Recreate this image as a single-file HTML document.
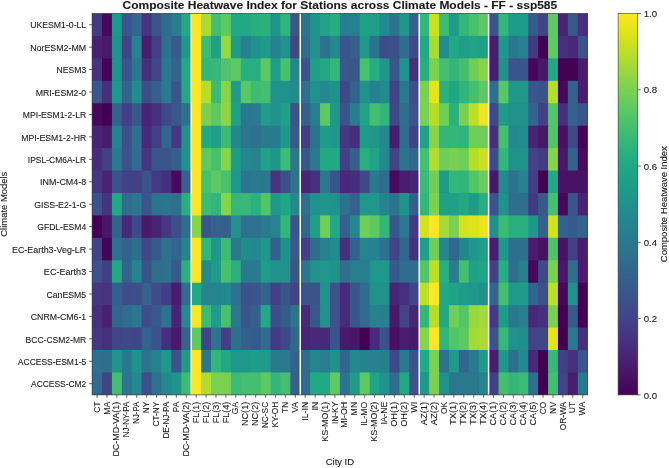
<!DOCTYPE html><html><head><meta charset="utf-8"><style>html,body{margin:0;padding:0;background:#fff;width:669px;height:468px;overflow:hidden}svg{display:block;filter:blur(0.35px)}text{font-family:"Liberation Sans",sans-serif;fill:#1a1a1a;stroke:#1a1a1a;stroke-width:0.1px}</style></head><body>
<svg width="669" height="468" viewBox="0 0 669 468">
<defs><linearGradient id="cb" x1="0" y1="1" x2="0" y2="0">
<stop offset="0.00" stop-color="#440154"/>
<stop offset="0.05" stop-color="#471365"/>
<stop offset="0.10" stop-color="#482475"/>
<stop offset="0.15" stop-color="#463480"/>
<stop offset="0.20" stop-color="#414487"/>
<stop offset="0.25" stop-color="#3b528b"/>
<stop offset="0.30" stop-color="#355f8d"/>
<stop offset="0.35" stop-color="#2f6c8e"/>
<stop offset="0.40" stop-color="#2a788e"/>
<stop offset="0.45" stop-color="#25848e"/>
<stop offset="0.50" stop-color="#21918c"/>
<stop offset="0.55" stop-color="#1e9c89"/>
<stop offset="0.60" stop-color="#22a884"/>
<stop offset="0.65" stop-color="#2fb47c"/>
<stop offset="0.70" stop-color="#44bf70"/>
<stop offset="0.75" stop-color="#5ec962"/>
<stop offset="0.80" stop-color="#7ad151"/>
<stop offset="0.85" stop-color="#9bd93c"/>
<stop offset="0.90" stop-color="#bddf26"/>
<stop offset="0.95" stop-color="#dfe318"/>
<stop offset="1.00" stop-color="#fde725"/>
</linearGradient></defs>
<rect width="669" height="468" fill="#fff"/>
<text x="339.90" y="8.6" font-size="10.12" font-weight="bold" text-anchor="middle" textLength="434.6" lengthAdjust="spacingAndGlyphs">Composite Heatwave Index for Stations across Climate Models - FF - ssp585</text>
<g>
<rect x="92.10" y="13.50" width="10.71" height="23.24" fill="#443a83"/>
<rect x="102.01" y="13.50" width="10.71" height="23.24" fill="#46085c"/>
<rect x="111.92" y="13.50" width="10.71" height="23.24" fill="#1f978b"/>
<rect x="121.84" y="13.50" width="10.71" height="23.24" fill="#3a548c"/>
<rect x="131.75" y="13.50" width="10.71" height="23.24" fill="#31678e"/>
<rect x="141.66" y="13.50" width="10.71" height="23.24" fill="#463480"/>
<rect x="151.57" y="13.50" width="10.71" height="23.24" fill="#3a548c"/>
<rect x="161.48" y="13.50" width="10.71" height="23.24" fill="#2f6c8e"/>
<rect x="171.40" y="13.50" width="10.71" height="23.24" fill="#287d8e"/>
<rect x="181.31" y="13.50" width="10.71" height="23.24" fill="#22a884"/>
<rect x="191.22" y="13.50" width="10.71" height="23.24" fill="#fde725"/>
<rect x="201.13" y="13.50" width="10.71" height="23.24" fill="#a8db34"/>
<rect x="211.04" y="13.50" width="10.71" height="23.24" fill="#44bf70"/>
<rect x="220.96" y="13.50" width="10.71" height="23.24" fill="#5ec962"/>
<rect x="230.87" y="13.50" width="10.71" height="23.24" fill="#22a884"/>
<rect x="240.78" y="13.50" width="10.71" height="23.24" fill="#22a884"/>
<rect x="250.69" y="13.50" width="10.71" height="23.24" fill="#29af7f"/>
<rect x="260.60" y="13.50" width="10.71" height="23.24" fill="#2cb17e"/>
<rect x="270.52" y="13.50" width="10.71" height="23.24" fill="#1f958b"/>
<rect x="280.43" y="13.50" width="10.71" height="23.24" fill="#2fb47c"/>
<rect x="290.34" y="13.50" width="10.71" height="23.24" fill="#3a548c"/>
<rect x="300.25" y="13.50" width="10.71" height="23.24" fill="#2c738e"/>
<rect x="310.16" y="13.50" width="10.71" height="23.24" fill="#20928c"/>
<rect x="320.08" y="13.50" width="10.71" height="23.24" fill="#20a386"/>
<rect x="329.99" y="13.50" width="10.71" height="23.24" fill="#26ad81"/>
<rect x="339.90" y="13.50" width="10.71" height="23.24" fill="#287d8e"/>
<rect x="349.81" y="13.50" width="10.71" height="23.24" fill="#27808e"/>
<rect x="359.72" y="13.50" width="10.71" height="23.24" fill="#1fa188"/>
<rect x="369.64" y="13.50" width="10.71" height="23.24" fill="#1f9f88"/>
<rect x="379.55" y="13.50" width="10.71" height="23.24" fill="#23898e"/>
<rect x="389.46" y="13.50" width="10.71" height="23.24" fill="#2c738e"/>
<rect x="399.37" y="13.50" width="10.71" height="23.24" fill="#1f958b"/>
<rect x="409.28" y="13.50" width="10.71" height="23.24" fill="#355f8d"/>
<rect x="419.20" y="13.50" width="10.71" height="23.24" fill="#32b67a"/>
<rect x="429.11" y="13.50" width="10.71" height="23.24" fill="#cae11f"/>
<rect x="439.02" y="13.50" width="10.71" height="23.24" fill="#3bbb75"/>
<rect x="448.93" y="13.50" width="10.71" height="23.24" fill="#1e9c89"/>
<rect x="458.84" y="13.50" width="10.71" height="23.24" fill="#32b67a"/>
<rect x="468.76" y="13.50" width="10.71" height="23.24" fill="#48c16e"/>
<rect x="478.67" y="13.50" width="10.71" height="23.24" fill="#5ec962"/>
<rect x="488.58" y="13.50" width="10.71" height="23.24" fill="#3a548c"/>
<rect x="498.49" y="13.50" width="10.71" height="23.24" fill="#32b67a"/>
<rect x="508.40" y="13.50" width="10.71" height="23.24" fill="#1e9c89"/>
<rect x="518.32" y="13.50" width="10.71" height="23.24" fill="#1e9c89"/>
<rect x="528.23" y="13.50" width="10.71" height="23.24" fill="#375a8c"/>
<rect x="538.14" y="13.50" width="10.71" height="23.24" fill="#414487"/>
<rect x="548.05" y="13.50" width="10.71" height="23.24" fill="#5ec962"/>
<rect x="557.96" y="13.50" width="10.71" height="23.24" fill="#482475"/>
<rect x="567.88" y="13.50" width="10.71" height="23.24" fill="#38588c"/>
<rect x="577.79" y="13.50" width="9.91" height="23.24" fill="#46307e"/>
<rect x="92.10" y="35.94" width="10.71" height="23.24" fill="#482173"/>
<rect x="102.01" y="35.94" width="10.71" height="23.24" fill="#481a6c"/>
<rect x="111.92" y="35.94" width="10.71" height="23.24" fill="#21918c"/>
<rect x="121.84" y="35.94" width="10.71" height="23.24" fill="#414487"/>
<rect x="131.75" y="35.94" width="10.71" height="23.24" fill="#26828e"/>
<rect x="141.66" y="35.94" width="10.71" height="23.24" fill="#481d6f"/>
<rect x="151.57" y="35.94" width="10.71" height="23.24" fill="#433e85"/>
<rect x="161.48" y="35.94" width="10.71" height="23.24" fill="#2d718e"/>
<rect x="171.40" y="35.94" width="10.71" height="23.24" fill="#375a8c"/>
<rect x="181.31" y="35.94" width="10.71" height="23.24" fill="#1f978b"/>
<rect x="191.22" y="35.94" width="10.71" height="23.24" fill="#fde725"/>
<rect x="201.13" y="35.94" width="10.71" height="23.24" fill="#3bbb75"/>
<rect x="211.04" y="35.94" width="10.71" height="23.24" fill="#1fa188"/>
<rect x="220.96" y="35.94" width="10.71" height="23.24" fill="#95d840"/>
<rect x="230.87" y="35.94" width="10.71" height="23.24" fill="#1e9c89"/>
<rect x="240.78" y="35.94" width="10.71" height="23.24" fill="#26828e"/>
<rect x="250.69" y="35.94" width="10.71" height="23.24" fill="#20928c"/>
<rect x="260.60" y="35.94" width="10.71" height="23.24" fill="#1e9c89"/>
<rect x="270.52" y="35.94" width="10.71" height="23.24" fill="#26828e"/>
<rect x="280.43" y="35.94" width="10.71" height="23.24" fill="#20928c"/>
<rect x="290.34" y="35.94" width="10.71" height="23.24" fill="#3e4989"/>
<rect x="300.25" y="35.94" width="10.71" height="23.24" fill="#2f6c8e"/>
<rect x="310.16" y="35.94" width="10.71" height="23.24" fill="#21918c"/>
<rect x="320.08" y="35.94" width="10.71" height="23.24" fill="#2d718e"/>
<rect x="329.99" y="35.94" width="10.71" height="23.24" fill="#23898e"/>
<rect x="339.90" y="35.94" width="10.71" height="23.24" fill="#3a548c"/>
<rect x="349.81" y="35.94" width="10.71" height="23.24" fill="#355f8d"/>
<rect x="359.72" y="35.94" width="10.71" height="23.24" fill="#1f978b"/>
<rect x="369.64" y="35.94" width="10.71" height="23.24" fill="#2c738e"/>
<rect x="379.55" y="35.94" width="10.71" height="23.24" fill="#3e4c8a"/>
<rect x="389.46" y="35.94" width="10.71" height="23.24" fill="#3c4f8a"/>
<rect x="399.37" y="35.94" width="10.71" height="23.24" fill="#2f6c8e"/>
<rect x="409.28" y="35.94" width="10.71" height="23.24" fill="#3e4989"/>
<rect x="419.20" y="35.94" width="10.71" height="23.24" fill="#22a884"/>
<rect x="429.11" y="35.94" width="10.71" height="23.24" fill="#a8db34"/>
<rect x="439.02" y="35.94" width="10.71" height="23.24" fill="#228b8d"/>
<rect x="448.93" y="35.94" width="10.71" height="23.24" fill="#22a884"/>
<rect x="458.84" y="35.94" width="10.71" height="23.24" fill="#1f9f88"/>
<rect x="468.76" y="35.94" width="10.71" height="23.24" fill="#20a386"/>
<rect x="478.67" y="35.94" width="10.71" height="23.24" fill="#1fa188"/>
<rect x="488.58" y="35.94" width="10.71" height="23.24" fill="#481d6f"/>
<rect x="498.49" y="35.94" width="10.71" height="23.24" fill="#1f978b"/>
<rect x="508.40" y="35.94" width="10.71" height="23.24" fill="#2a788e"/>
<rect x="518.32" y="35.94" width="10.71" height="23.24" fill="#26828e"/>
<rect x="528.23" y="35.94" width="10.71" height="23.24" fill="#443a83"/>
<rect x="538.14" y="35.94" width="10.71" height="23.24" fill="#440154"/>
<rect x="548.05" y="35.94" width="10.71" height="23.24" fill="#5ec962"/>
<rect x="557.96" y="35.94" width="10.71" height="23.24" fill="#46307e"/>
<rect x="567.88" y="35.94" width="10.71" height="23.24" fill="#482878"/>
<rect x="577.79" y="35.94" width="9.91" height="23.24" fill="#3b528b"/>
<rect x="92.10" y="58.37" width="10.71" height="23.24" fill="#463480"/>
<rect x="102.01" y="58.37" width="10.71" height="23.24" fill="#450457"/>
<rect x="111.92" y="58.37" width="10.71" height="23.24" fill="#21918c"/>
<rect x="121.84" y="58.37" width="10.71" height="23.24" fill="#3a548c"/>
<rect x="131.75" y="58.37" width="10.71" height="23.24" fill="#2a788e"/>
<rect x="141.66" y="58.37" width="10.71" height="23.24" fill="#472e7c"/>
<rect x="151.57" y="58.37" width="10.71" height="23.24" fill="#404688"/>
<rect x="161.48" y="58.37" width="10.71" height="23.24" fill="#2a788e"/>
<rect x="171.40" y="58.37" width="10.71" height="23.24" fill="#32648e"/>
<rect x="181.31" y="58.37" width="10.71" height="23.24" fill="#22a884"/>
<rect x="191.22" y="58.37" width="10.71" height="23.24" fill="#fde725"/>
<rect x="201.13" y="58.37" width="10.71" height="23.24" fill="#32b67a"/>
<rect x="211.04" y="58.37" width="10.71" height="23.24" fill="#37b878"/>
<rect x="220.96" y="58.37" width="10.71" height="23.24" fill="#4ec36b"/>
<rect x="230.87" y="58.37" width="10.71" height="23.24" fill="#5ec962"/>
<rect x="240.78" y="58.37" width="10.71" height="23.24" fill="#29af7f"/>
<rect x="250.69" y="58.37" width="10.71" height="23.24" fill="#29af7f"/>
<rect x="260.60" y="58.37" width="10.71" height="23.24" fill="#5ec962"/>
<rect x="270.52" y="58.37" width="10.71" height="23.24" fill="#1f9f88"/>
<rect x="280.43" y="58.37" width="10.71" height="23.24" fill="#48c16e"/>
<rect x="290.34" y="58.37" width="10.71" height="23.24" fill="#23898e"/>
<rect x="300.25" y="58.37" width="10.71" height="23.24" fill="#3a548c"/>
<rect x="310.16" y="58.37" width="10.71" height="23.24" fill="#1f9f88"/>
<rect x="320.08" y="58.37" width="10.71" height="23.24" fill="#22a884"/>
<rect x="329.99" y="58.37" width="10.71" height="23.24" fill="#32b67a"/>
<rect x="339.90" y="58.37" width="10.71" height="23.24" fill="#375a8c"/>
<rect x="349.81" y="58.37" width="10.71" height="23.24" fill="#38588c"/>
<rect x="359.72" y="58.37" width="10.71" height="23.24" fill="#48c16e"/>
<rect x="369.64" y="58.37" width="10.71" height="23.24" fill="#26ad81"/>
<rect x="379.55" y="58.37" width="10.71" height="23.24" fill="#1f958b"/>
<rect x="389.46" y="58.37" width="10.71" height="23.24" fill="#38588c"/>
<rect x="399.37" y="58.37" width="10.71" height="23.24" fill="#20928c"/>
<rect x="409.28" y="58.37" width="10.71" height="23.24" fill="#46307e"/>
<rect x="419.20" y="58.37" width="10.71" height="23.24" fill="#29af7f"/>
<rect x="429.11" y="58.37" width="10.71" height="23.24" fill="#7ad151"/>
<rect x="439.02" y="58.37" width="10.71" height="23.24" fill="#44bf70"/>
<rect x="448.93" y="58.37" width="10.71" height="23.24" fill="#32b67a"/>
<rect x="458.84" y="58.37" width="10.71" height="23.24" fill="#44bf70"/>
<rect x="468.76" y="58.37" width="10.71" height="23.24" fill="#6ece58"/>
<rect x="478.67" y="58.37" width="10.71" height="23.24" fill="#86d549"/>
<rect x="488.58" y="58.37" width="10.71" height="23.24" fill="#481d6f"/>
<rect x="498.49" y="58.37" width="10.71" height="23.24" fill="#21918c"/>
<rect x="508.40" y="58.37" width="10.71" height="23.24" fill="#3a548c"/>
<rect x="518.32" y="58.37" width="10.71" height="23.24" fill="#3a548c"/>
<rect x="528.23" y="58.37" width="10.71" height="23.24" fill="#46085c"/>
<rect x="538.14" y="58.37" width="10.71" height="23.24" fill="#481769"/>
<rect x="548.05" y="58.37" width="10.71" height="23.24" fill="#22a884"/>
<rect x="557.96" y="58.37" width="10.71" height="23.24" fill="#440154"/>
<rect x="567.88" y="58.37" width="10.71" height="23.24" fill="#440154"/>
<rect x="577.79" y="58.37" width="9.91" height="23.24" fill="#481d6f"/>
<rect x="92.10" y="80.81" width="10.71" height="23.24" fill="#38588c"/>
<rect x="102.01" y="80.81" width="10.71" height="23.24" fill="#46307e"/>
<rect x="111.92" y="80.81" width="10.71" height="23.24" fill="#1f978b"/>
<rect x="121.84" y="80.81" width="10.71" height="23.24" fill="#33628d"/>
<rect x="131.75" y="80.81" width="10.71" height="23.24" fill="#228b8d"/>
<rect x="141.66" y="80.81" width="10.71" height="23.24" fill="#3c4f8a"/>
<rect x="151.57" y="80.81" width="10.71" height="23.24" fill="#355f8d"/>
<rect x="161.48" y="80.81" width="10.71" height="23.24" fill="#297a8e"/>
<rect x="171.40" y="80.81" width="10.71" height="23.24" fill="#3a548c"/>
<rect x="181.31" y="80.81" width="10.71" height="23.24" fill="#22a884"/>
<rect x="191.22" y="80.81" width="10.71" height="23.24" fill="#fde725"/>
<rect x="201.13" y="80.81" width="10.71" height="23.24" fill="#b5de2b"/>
<rect x="211.04" y="80.81" width="10.71" height="23.24" fill="#3bbb75"/>
<rect x="220.96" y="80.81" width="10.71" height="23.24" fill="#86d549"/>
<rect x="230.87" y="80.81" width="10.71" height="23.24" fill="#1e9c89"/>
<rect x="240.78" y="80.81" width="10.71" height="23.24" fill="#58c765"/>
<rect x="250.69" y="80.81" width="10.71" height="23.24" fill="#3fbc73"/>
<rect x="260.60" y="80.81" width="10.71" height="23.24" fill="#44bf70"/>
<rect x="270.52" y="80.81" width="10.71" height="23.24" fill="#21918c"/>
<rect x="280.43" y="80.81" width="10.71" height="23.24" fill="#21918c"/>
<rect x="290.34" y="80.81" width="10.71" height="23.24" fill="#228b8d"/>
<rect x="300.25" y="80.81" width="10.71" height="23.24" fill="#2e6f8e"/>
<rect x="310.16" y="80.81" width="10.71" height="23.24" fill="#21918c"/>
<rect x="320.08" y="80.81" width="10.71" height="23.24" fill="#23898e"/>
<rect x="329.99" y="80.81" width="10.71" height="23.24" fill="#20928c"/>
<rect x="339.90" y="80.81" width="10.71" height="23.24" fill="#3e4989"/>
<rect x="349.81" y="80.81" width="10.71" height="23.24" fill="#33628d"/>
<rect x="359.72" y="80.81" width="10.71" height="23.24" fill="#20928c"/>
<rect x="369.64" y="80.81" width="10.71" height="23.24" fill="#27808e"/>
<rect x="379.55" y="80.81" width="10.71" height="23.24" fill="#228b8d"/>
<rect x="389.46" y="80.81" width="10.71" height="23.24" fill="#414487"/>
<rect x="399.37" y="80.81" width="10.71" height="23.24" fill="#2a788e"/>
<rect x="409.28" y="80.81" width="10.71" height="23.24" fill="#3e4c8a"/>
<rect x="419.20" y="80.81" width="10.71" height="23.24" fill="#7ad151"/>
<rect x="429.11" y="80.81" width="10.71" height="23.24" fill="#e5e419"/>
<rect x="439.02" y="80.81" width="10.71" height="23.24" fill="#2cb17e"/>
<rect x="448.93" y="80.81" width="10.71" height="23.24" fill="#21a685"/>
<rect x="458.84" y="80.81" width="10.71" height="23.24" fill="#2fb47c"/>
<rect x="468.76" y="80.81" width="10.71" height="23.24" fill="#44bf70"/>
<rect x="478.67" y="80.81" width="10.71" height="23.24" fill="#5ec962"/>
<rect x="488.58" y="80.81" width="10.71" height="23.24" fill="#2e6f8e"/>
<rect x="498.49" y="80.81" width="10.71" height="23.24" fill="#58c765"/>
<rect x="508.40" y="80.81" width="10.71" height="23.24" fill="#1f978b"/>
<rect x="518.32" y="80.81" width="10.71" height="23.24" fill="#1f978b"/>
<rect x="528.23" y="80.81" width="10.71" height="23.24" fill="#38588c"/>
<rect x="538.14" y="80.81" width="10.71" height="23.24" fill="#3b528b"/>
<rect x="548.05" y="80.81" width="10.71" height="23.24" fill="#b5de2b"/>
<rect x="557.96" y="80.81" width="10.71" height="23.24" fill="#46085c"/>
<rect x="567.88" y="80.81" width="10.71" height="23.24" fill="#33628d"/>
<rect x="577.79" y="80.81" width="9.91" height="23.24" fill="#481d6f"/>
<rect x="92.10" y="103.24" width="10.71" height="23.24" fill="#46085c"/>
<rect x="102.01" y="103.24" width="10.71" height="23.24" fill="#440154"/>
<rect x="111.92" y="103.24" width="10.71" height="23.24" fill="#33628d"/>
<rect x="121.84" y="103.24" width="10.71" height="23.24" fill="#433e85"/>
<rect x="131.75" y="103.24" width="10.71" height="23.24" fill="#38588c"/>
<rect x="141.66" y="103.24" width="10.71" height="23.24" fill="#482475"/>
<rect x="151.57" y="103.24" width="10.71" height="23.24" fill="#46307e"/>
<rect x="161.48" y="103.24" width="10.71" height="23.24" fill="#3e4989"/>
<rect x="171.40" y="103.24" width="10.71" height="23.24" fill="#38588c"/>
<rect x="181.31" y="103.24" width="10.71" height="23.24" fill="#2d718e"/>
<rect x="191.22" y="103.24" width="10.71" height="23.24" fill="#fde725"/>
<rect x="201.13" y="103.24" width="10.71" height="23.24" fill="#7ad151"/>
<rect x="211.04" y="103.24" width="10.71" height="23.24" fill="#5ec962"/>
<rect x="220.96" y="103.24" width="10.71" height="23.24" fill="#8ed645"/>
<rect x="230.87" y="103.24" width="10.71" height="23.24" fill="#1fa188"/>
<rect x="240.78" y="103.24" width="10.71" height="23.24" fill="#2a788e"/>
<rect x="250.69" y="103.24" width="10.71" height="23.24" fill="#297a8e"/>
<rect x="260.60" y="103.24" width="10.71" height="23.24" fill="#1e9c89"/>
<rect x="270.52" y="103.24" width="10.71" height="23.24" fill="#21918c"/>
<rect x="280.43" y="103.24" width="10.71" height="23.24" fill="#1fa188"/>
<rect x="290.34" y="103.24" width="10.71" height="23.24" fill="#3b528b"/>
<rect x="300.25" y="103.24" width="10.71" height="23.24" fill="#355f8d"/>
<rect x="310.16" y="103.24" width="10.71" height="23.24" fill="#287d8e"/>
<rect x="320.08" y="103.24" width="10.71" height="23.24" fill="#5ec962"/>
<rect x="329.99" y="103.24" width="10.71" height="23.24" fill="#1f978b"/>
<rect x="339.90" y="103.24" width="10.71" height="23.24" fill="#3b528b"/>
<rect x="349.81" y="103.24" width="10.71" height="23.24" fill="#287d8e"/>
<rect x="359.72" y="103.24" width="10.71" height="23.24" fill="#20a386"/>
<rect x="369.64" y="103.24" width="10.71" height="23.24" fill="#44bf70"/>
<rect x="379.55" y="103.24" width="10.71" height="23.24" fill="#32b67a"/>
<rect x="389.46" y="103.24" width="10.71" height="23.24" fill="#3e4989"/>
<rect x="399.37" y="103.24" width="10.71" height="23.24" fill="#2e6f8e"/>
<rect x="409.28" y="103.24" width="10.71" height="23.24" fill="#3b528b"/>
<rect x="419.20" y="103.24" width="10.71" height="23.24" fill="#7ad151"/>
<rect x="429.11" y="103.24" width="10.71" height="23.24" fill="#b5de2b"/>
<rect x="439.02" y="103.24" width="10.71" height="23.24" fill="#6ece58"/>
<rect x="448.93" y="103.24" width="10.71" height="23.24" fill="#2cb17e"/>
<rect x="458.84" y="103.24" width="10.71" height="23.24" fill="#7ad151"/>
<rect x="468.76" y="103.24" width="10.71" height="23.24" fill="#bddf26"/>
<rect x="478.67" y="103.24" width="10.71" height="23.24" fill="#f1e51d"/>
<rect x="488.58" y="103.24" width="10.71" height="23.24" fill="#3e4989"/>
<rect x="498.49" y="103.24" width="10.71" height="23.24" fill="#1e9c89"/>
<rect x="508.40" y="103.24" width="10.71" height="23.24" fill="#21918c"/>
<rect x="518.32" y="103.24" width="10.71" height="23.24" fill="#21918c"/>
<rect x="528.23" y="103.24" width="10.71" height="23.24" fill="#31678e"/>
<rect x="538.14" y="103.24" width="10.71" height="23.24" fill="#424086"/>
<rect x="548.05" y="103.24" width="10.71" height="23.24" fill="#52c569"/>
<rect x="557.96" y="103.24" width="10.71" height="23.24" fill="#46307e"/>
<rect x="567.88" y="103.24" width="10.71" height="23.24" fill="#33628d"/>
<rect x="577.79" y="103.24" width="9.91" height="23.24" fill="#3a548c"/>
<rect x="92.10" y="125.68" width="10.71" height="23.24" fill="#482475"/>
<rect x="102.01" y="125.68" width="10.71" height="23.24" fill="#481d6f"/>
<rect x="111.92" y="125.68" width="10.71" height="23.24" fill="#26828e"/>
<rect x="121.84" y="125.68" width="10.71" height="23.24" fill="#3c4f8a"/>
<rect x="131.75" y="125.68" width="10.71" height="23.24" fill="#2e6f8e"/>
<rect x="141.66" y="125.68" width="10.71" height="23.24" fill="#472a7a"/>
<rect x="151.57" y="125.68" width="10.71" height="23.24" fill="#433e85"/>
<rect x="161.48" y="125.68" width="10.71" height="23.24" fill="#31678e"/>
<rect x="171.40" y="125.68" width="10.71" height="23.24" fill="#453781"/>
<rect x="181.31" y="125.68" width="10.71" height="23.24" fill="#21918c"/>
<rect x="191.22" y="125.68" width="10.71" height="23.24" fill="#fde725"/>
<rect x="201.13" y="125.68" width="10.71" height="23.24" fill="#22a884"/>
<rect x="211.04" y="125.68" width="10.71" height="23.24" fill="#1f9f88"/>
<rect x="220.96" y="125.68" width="10.71" height="23.24" fill="#3bbb75"/>
<rect x="230.87" y="125.68" width="10.71" height="23.24" fill="#24868e"/>
<rect x="240.78" y="125.68" width="10.71" height="23.24" fill="#2b758e"/>
<rect x="250.69" y="125.68" width="10.71" height="23.24" fill="#2d718e"/>
<rect x="260.60" y="125.68" width="10.71" height="23.24" fill="#297a8e"/>
<rect x="270.52" y="125.68" width="10.71" height="23.24" fill="#297a8e"/>
<rect x="280.43" y="125.68" width="10.71" height="23.24" fill="#1f978b"/>
<rect x="290.34" y="125.68" width="10.71" height="23.24" fill="#375a8c"/>
<rect x="300.25" y="125.68" width="10.71" height="23.24" fill="#433e85"/>
<rect x="310.16" y="125.68" width="10.71" height="23.24" fill="#2c738e"/>
<rect x="320.08" y="125.68" width="10.71" height="23.24" fill="#1e9c89"/>
<rect x="329.99" y="125.68" width="10.71" height="23.24" fill="#1f978b"/>
<rect x="339.90" y="125.68" width="10.71" height="23.24" fill="#453781"/>
<rect x="349.81" y="125.68" width="10.71" height="23.24" fill="#472e7c"/>
<rect x="359.72" y="125.68" width="10.71" height="23.24" fill="#1e9c89"/>
<rect x="369.64" y="125.68" width="10.71" height="23.24" fill="#1f978b"/>
<rect x="379.55" y="125.68" width="10.71" height="23.24" fill="#23898e"/>
<rect x="389.46" y="125.68" width="10.71" height="23.24" fill="#481d6f"/>
<rect x="399.37" y="125.68" width="10.71" height="23.24" fill="#2f6c8e"/>
<rect x="409.28" y="125.68" width="10.71" height="23.24" fill="#424086"/>
<rect x="419.20" y="125.68" width="10.71" height="23.24" fill="#1fa188"/>
<rect x="429.11" y="125.68" width="10.71" height="23.24" fill="#86d549"/>
<rect x="439.02" y="125.68" width="10.71" height="23.24" fill="#32b67a"/>
<rect x="448.93" y="125.68" width="10.71" height="23.24" fill="#32b67a"/>
<rect x="458.84" y="125.68" width="10.71" height="23.24" fill="#2fb47c"/>
<rect x="468.76" y="125.68" width="10.71" height="23.24" fill="#6ece58"/>
<rect x="478.67" y="125.68" width="10.71" height="23.24" fill="#6ece58"/>
<rect x="488.58" y="125.68" width="10.71" height="23.24" fill="#46307e"/>
<rect x="498.49" y="125.68" width="10.71" height="23.24" fill="#44bf70"/>
<rect x="508.40" y="125.68" width="10.71" height="23.24" fill="#23898e"/>
<rect x="518.32" y="125.68" width="10.71" height="23.24" fill="#218e8d"/>
<rect x="528.23" y="125.68" width="10.71" height="23.24" fill="#482475"/>
<rect x="538.14" y="125.68" width="10.71" height="23.24" fill="#481769"/>
<rect x="548.05" y="125.68" width="10.71" height="23.24" fill="#52c569"/>
<rect x="557.96" y="125.68" width="10.71" height="23.24" fill="#471063"/>
<rect x="567.88" y="125.68" width="10.71" height="23.24" fill="#3e4989"/>
<rect x="577.79" y="125.68" width="9.91" height="23.24" fill="#450457"/>
<rect x="92.10" y="148.11" width="10.71" height="23.24" fill="#472e7c"/>
<rect x="102.01" y="148.11" width="10.71" height="23.24" fill="#424086"/>
<rect x="111.92" y="148.11" width="10.71" height="23.24" fill="#2a788e"/>
<rect x="121.84" y="148.11" width="10.71" height="23.24" fill="#3b528b"/>
<rect x="131.75" y="148.11" width="10.71" height="23.24" fill="#2f6c8e"/>
<rect x="141.66" y="148.11" width="10.71" height="23.24" fill="#453781"/>
<rect x="151.57" y="148.11" width="10.71" height="23.24" fill="#3a548c"/>
<rect x="161.48" y="148.11" width="10.71" height="23.24" fill="#3a548c"/>
<rect x="171.40" y="148.11" width="10.71" height="23.24" fill="#355f8d"/>
<rect x="181.31" y="148.11" width="10.71" height="23.24" fill="#21918c"/>
<rect x="191.22" y="148.11" width="10.71" height="23.24" fill="#fde725"/>
<rect x="201.13" y="148.11" width="10.71" height="23.24" fill="#5ec962"/>
<rect x="211.04" y="148.11" width="10.71" height="23.24" fill="#48c16e"/>
<rect x="220.96" y="148.11" width="10.71" height="23.24" fill="#86d549"/>
<rect x="230.87" y="148.11" width="10.71" height="23.24" fill="#1e9c89"/>
<rect x="240.78" y="148.11" width="10.71" height="23.24" fill="#24868e"/>
<rect x="250.69" y="148.11" width="10.71" height="23.24" fill="#25848e"/>
<rect x="260.60" y="148.11" width="10.71" height="23.24" fill="#20a386"/>
<rect x="270.52" y="148.11" width="10.71" height="23.24" fill="#1f958b"/>
<rect x="280.43" y="148.11" width="10.71" height="23.24" fill="#3bbb75"/>
<rect x="290.34" y="148.11" width="10.71" height="23.24" fill="#2a788e"/>
<rect x="300.25" y="148.11" width="10.71" height="23.24" fill="#38588c"/>
<rect x="310.16" y="148.11" width="10.71" height="23.24" fill="#2a788e"/>
<rect x="320.08" y="148.11" width="10.71" height="23.24" fill="#22a884"/>
<rect x="329.99" y="148.11" width="10.71" height="23.24" fill="#22a884"/>
<rect x="339.90" y="148.11" width="10.71" height="23.24" fill="#424086"/>
<rect x="349.81" y="148.11" width="10.71" height="23.24" fill="#355f8d"/>
<rect x="359.72" y="148.11" width="10.71" height="23.24" fill="#29af7f"/>
<rect x="369.64" y="148.11" width="10.71" height="23.24" fill="#20a386"/>
<rect x="379.55" y="148.11" width="10.71" height="23.24" fill="#23898e"/>
<rect x="389.46" y="148.11" width="10.71" height="23.24" fill="#414487"/>
<rect x="399.37" y="148.11" width="10.71" height="23.24" fill="#2c738e"/>
<rect x="409.28" y="148.11" width="10.71" height="23.24" fill="#31678e"/>
<rect x="419.20" y="148.11" width="10.71" height="23.24" fill="#44bf70"/>
<rect x="429.11" y="148.11" width="10.71" height="23.24" fill="#b0dd2f"/>
<rect x="439.02" y="148.11" width="10.71" height="23.24" fill="#6ece58"/>
<rect x="448.93" y="148.11" width="10.71" height="23.24" fill="#7ad151"/>
<rect x="458.84" y="148.11" width="10.71" height="23.24" fill="#6ece58"/>
<rect x="468.76" y="148.11" width="10.71" height="23.24" fill="#b5de2b"/>
<rect x="478.67" y="148.11" width="10.71" height="23.24" fill="#cae11f"/>
<rect x="488.58" y="148.11" width="10.71" height="23.24" fill="#3e4c8a"/>
<rect x="498.49" y="148.11" width="10.71" height="23.24" fill="#32b67a"/>
<rect x="508.40" y="148.11" width="10.71" height="23.24" fill="#21918c"/>
<rect x="518.32" y="148.11" width="10.71" height="23.24" fill="#20928c"/>
<rect x="528.23" y="148.11" width="10.71" height="23.24" fill="#414487"/>
<rect x="538.14" y="148.11" width="10.71" height="23.24" fill="#443a83"/>
<rect x="548.05" y="148.11" width="10.71" height="23.24" fill="#86d549"/>
<rect x="557.96" y="148.11" width="10.71" height="23.24" fill="#481769"/>
<rect x="567.88" y="148.11" width="10.71" height="23.24" fill="#33628d"/>
<rect x="577.79" y="148.11" width="9.91" height="23.24" fill="#460b5e"/>
<rect x="92.10" y="170.55" width="10.71" height="23.24" fill="#453781"/>
<rect x="102.01" y="170.55" width="10.71" height="23.24" fill="#482475"/>
<rect x="111.92" y="170.55" width="10.71" height="23.24" fill="#3b528b"/>
<rect x="121.84" y="170.55" width="10.71" height="23.24" fill="#424086"/>
<rect x="131.75" y="170.55" width="10.71" height="23.24" fill="#424086"/>
<rect x="141.66" y="170.55" width="10.71" height="23.24" fill="#3b528b"/>
<rect x="151.57" y="170.55" width="10.71" height="23.24" fill="#443a83"/>
<rect x="161.48" y="170.55" width="10.71" height="23.24" fill="#46307e"/>
<rect x="171.40" y="170.55" width="10.71" height="23.24" fill="#460b5e"/>
<rect x="181.31" y="170.55" width="10.71" height="23.24" fill="#33628d"/>
<rect x="191.22" y="170.55" width="10.71" height="23.24" fill="#fde725"/>
<rect x="201.13" y="170.55" width="10.71" height="23.24" fill="#48c16e"/>
<rect x="211.04" y="170.55" width="10.71" height="23.24" fill="#5ec962"/>
<rect x="220.96" y="170.55" width="10.71" height="23.24" fill="#48c16e"/>
<rect x="230.87" y="170.55" width="10.71" height="23.24" fill="#1f978b"/>
<rect x="240.78" y="170.55" width="10.71" height="23.24" fill="#2b758e"/>
<rect x="250.69" y="170.55" width="10.71" height="23.24" fill="#297a8e"/>
<rect x="260.60" y="170.55" width="10.71" height="23.24" fill="#2a788e"/>
<rect x="270.52" y="170.55" width="10.71" height="23.24" fill="#463480"/>
<rect x="280.43" y="170.55" width="10.71" height="23.24" fill="#3c4f8a"/>
<rect x="290.34" y="170.55" width="10.71" height="23.24" fill="#2c738e"/>
<rect x="300.25" y="170.55" width="10.71" height="23.24" fill="#482475"/>
<rect x="310.16" y="170.55" width="10.71" height="23.24" fill="#46307e"/>
<rect x="320.08" y="170.55" width="10.71" height="23.24" fill="#2a788e"/>
<rect x="329.99" y="170.55" width="10.71" height="23.24" fill="#3b528b"/>
<rect x="339.90" y="170.55" width="10.71" height="23.24" fill="#482878"/>
<rect x="349.81" y="170.55" width="10.71" height="23.24" fill="#472e7c"/>
<rect x="359.72" y="170.55" width="10.71" height="23.24" fill="#3e4989"/>
<rect x="369.64" y="170.55" width="10.71" height="23.24" fill="#2a788e"/>
<rect x="379.55" y="170.55" width="10.71" height="23.24" fill="#2f6c8e"/>
<rect x="389.46" y="170.55" width="10.71" height="23.24" fill="#460b5e"/>
<rect x="399.37" y="170.55" width="10.71" height="23.24" fill="#481d6f"/>
<rect x="409.28" y="170.55" width="10.71" height="23.24" fill="#482475"/>
<rect x="419.20" y="170.55" width="10.71" height="23.24" fill="#3bbb75"/>
<rect x="429.11" y="170.55" width="10.71" height="23.24" fill="#6ece58"/>
<rect x="439.02" y="170.55" width="10.71" height="23.24" fill="#1e9c89"/>
<rect x="448.93" y="170.55" width="10.71" height="23.24" fill="#32b67a"/>
<rect x="458.84" y="170.55" width="10.71" height="23.24" fill="#2fb47c"/>
<rect x="468.76" y="170.55" width="10.71" height="23.24" fill="#52c569"/>
<rect x="478.67" y="170.55" width="10.71" height="23.24" fill="#69cd5b"/>
<rect x="488.58" y="170.55" width="10.71" height="23.24" fill="#481769"/>
<rect x="498.49" y="170.55" width="10.71" height="23.24" fill="#23898e"/>
<rect x="508.40" y="170.55" width="10.71" height="23.24" fill="#2c738e"/>
<rect x="518.32" y="170.55" width="10.71" height="23.24" fill="#26828e"/>
<rect x="528.23" y="170.55" width="10.71" height="23.24" fill="#433e85"/>
<rect x="538.14" y="170.55" width="10.71" height="23.24" fill="#440154"/>
<rect x="548.05" y="170.55" width="10.71" height="23.24" fill="#22a884"/>
<rect x="557.96" y="170.55" width="10.71" height="23.24" fill="#471365"/>
<rect x="567.88" y="170.55" width="10.71" height="23.24" fill="#471365"/>
<rect x="577.79" y="170.55" width="9.91" height="23.24" fill="#471365"/>
<rect x="92.10" y="192.98" width="10.71" height="23.24" fill="#3b528b"/>
<rect x="102.01" y="192.98" width="10.71" height="23.24" fill="#463480"/>
<rect x="111.92" y="192.98" width="10.71" height="23.24" fill="#22a884"/>
<rect x="121.84" y="192.98" width="10.71" height="23.24" fill="#2f6c8e"/>
<rect x="131.75" y="192.98" width="10.71" height="23.24" fill="#2a788e"/>
<rect x="141.66" y="192.98" width="10.71" height="23.24" fill="#3a548c"/>
<rect x="151.57" y="192.98" width="10.71" height="23.24" fill="#2c738e"/>
<rect x="161.48" y="192.98" width="10.71" height="23.24" fill="#2b758e"/>
<rect x="171.40" y="192.98" width="10.71" height="23.24" fill="#2d718e"/>
<rect x="181.31" y="192.98" width="10.71" height="23.24" fill="#29af7f"/>
<rect x="191.22" y="192.98" width="10.71" height="23.24" fill="#fde725"/>
<rect x="201.13" y="192.98" width="10.71" height="23.24" fill="#3bbb75"/>
<rect x="211.04" y="192.98" width="10.71" height="23.24" fill="#32b67a"/>
<rect x="220.96" y="192.98" width="10.71" height="23.24" fill="#86d549"/>
<rect x="230.87" y="192.98" width="10.71" height="23.24" fill="#37b878"/>
<rect x="240.78" y="192.98" width="10.71" height="23.24" fill="#37b878"/>
<rect x="250.69" y="192.98" width="10.71" height="23.24" fill="#2cb17e"/>
<rect x="260.60" y="192.98" width="10.71" height="23.24" fill="#52c569"/>
<rect x="270.52" y="192.98" width="10.71" height="23.24" fill="#1f978b"/>
<rect x="280.43" y="192.98" width="10.71" height="23.24" fill="#21a685"/>
<rect x="290.34" y="192.98" width="10.71" height="23.24" fill="#23898e"/>
<rect x="300.25" y="192.98" width="10.71" height="23.24" fill="#2e6f8e"/>
<rect x="310.16" y="192.98" width="10.71" height="23.24" fill="#21918c"/>
<rect x="320.08" y="192.98" width="10.71" height="23.24" fill="#1f958b"/>
<rect x="329.99" y="192.98" width="10.71" height="23.24" fill="#20928c"/>
<rect x="339.90" y="192.98" width="10.71" height="23.24" fill="#2d718e"/>
<rect x="349.81" y="192.98" width="10.71" height="23.24" fill="#33628d"/>
<rect x="359.72" y="192.98" width="10.71" height="23.24" fill="#1f978b"/>
<rect x="369.64" y="192.98" width="10.71" height="23.24" fill="#1f978b"/>
<rect x="379.55" y="192.98" width="10.71" height="23.24" fill="#25848e"/>
<rect x="389.46" y="192.98" width="10.71" height="23.24" fill="#2c738e"/>
<rect x="399.37" y="192.98" width="10.71" height="23.24" fill="#21918c"/>
<rect x="409.28" y="192.98" width="10.71" height="23.24" fill="#355f8d"/>
<rect x="419.20" y="192.98" width="10.71" height="23.24" fill="#32b67a"/>
<rect x="429.11" y="192.98" width="10.71" height="23.24" fill="#7ad151"/>
<rect x="439.02" y="192.98" width="10.71" height="23.24" fill="#1fa188"/>
<rect x="448.93" y="192.98" width="10.71" height="23.24" fill="#1fa188"/>
<rect x="458.84" y="192.98" width="10.71" height="23.24" fill="#22a884"/>
<rect x="468.76" y="192.98" width="10.71" height="23.24" fill="#1e9c89"/>
<rect x="478.67" y="192.98" width="10.71" height="23.24" fill="#29af7f"/>
<rect x="488.58" y="192.98" width="10.71" height="23.24" fill="#3a548c"/>
<rect x="498.49" y="192.98" width="10.71" height="23.24" fill="#21918c"/>
<rect x="508.40" y="192.98" width="10.71" height="23.24" fill="#2e6f8e"/>
<rect x="518.32" y="192.98" width="10.71" height="23.24" fill="#2e6f8e"/>
<rect x="528.23" y="192.98" width="10.71" height="23.24" fill="#443a83"/>
<rect x="538.14" y="192.98" width="10.71" height="23.24" fill="#375a8c"/>
<rect x="548.05" y="192.98" width="10.71" height="23.24" fill="#44bf70"/>
<rect x="557.96" y="192.98" width="10.71" height="23.24" fill="#46085c"/>
<rect x="567.88" y="192.98" width="10.71" height="23.24" fill="#3a548c"/>
<rect x="577.79" y="192.98" width="9.91" height="23.24" fill="#482475"/>
<rect x="92.10" y="215.42" width="10.71" height="23.24" fill="#440154"/>
<rect x="102.01" y="215.42" width="10.71" height="23.24" fill="#481769"/>
<rect x="111.92" y="215.42" width="10.71" height="23.24" fill="#33628d"/>
<rect x="121.84" y="215.42" width="10.71" height="23.24" fill="#472a7a"/>
<rect x="131.75" y="215.42" width="10.71" height="23.24" fill="#3e4989"/>
<rect x="141.66" y="215.42" width="10.71" height="23.24" fill="#481a6c"/>
<rect x="151.57" y="215.42" width="10.71" height="23.24" fill="#482475"/>
<rect x="161.48" y="215.42" width="10.71" height="23.24" fill="#453781"/>
<rect x="171.40" y="215.42" width="10.71" height="23.24" fill="#3c4f8a"/>
<rect x="181.31" y="215.42" width="10.71" height="23.24" fill="#2f6c8e"/>
<rect x="191.22" y="215.42" width="10.71" height="23.24" fill="#86d549"/>
<rect x="201.13" y="215.42" width="10.71" height="23.24" fill="#38588c"/>
<rect x="211.04" y="215.42" width="10.71" height="23.24" fill="#33628d"/>
<rect x="220.96" y="215.42" width="10.71" height="23.24" fill="#355f8d"/>
<rect x="230.87" y="215.42" width="10.71" height="23.24" fill="#21918c"/>
<rect x="240.78" y="215.42" width="10.71" height="23.24" fill="#2d718e"/>
<rect x="250.69" y="215.42" width="10.71" height="23.24" fill="#2d718e"/>
<rect x="260.60" y="215.42" width="10.71" height="23.24" fill="#297a8e"/>
<rect x="270.52" y="215.42" width="10.71" height="23.24" fill="#25848e"/>
<rect x="280.43" y="215.42" width="10.71" height="23.24" fill="#32b67a"/>
<rect x="290.34" y="215.42" width="10.71" height="23.24" fill="#3a548c"/>
<rect x="300.25" y="215.42" width="10.71" height="23.24" fill="#31678e"/>
<rect x="310.16" y="215.42" width="10.71" height="23.24" fill="#1f9f88"/>
<rect x="320.08" y="215.42" width="10.71" height="23.24" fill="#6ece58"/>
<rect x="329.99" y="215.42" width="10.71" height="23.24" fill="#22a884"/>
<rect x="339.90" y="215.42" width="10.71" height="23.24" fill="#355f8d"/>
<rect x="349.81" y="215.42" width="10.71" height="23.24" fill="#24868e"/>
<rect x="359.72" y="215.42" width="10.71" height="23.24" fill="#6ece58"/>
<rect x="369.64" y="215.42" width="10.71" height="23.24" fill="#5ec962"/>
<rect x="379.55" y="215.42" width="10.71" height="23.24" fill="#32b67a"/>
<rect x="389.46" y="215.42" width="10.71" height="23.24" fill="#38588c"/>
<rect x="399.37" y="215.42" width="10.71" height="23.24" fill="#2a788e"/>
<rect x="409.28" y="215.42" width="10.71" height="23.24" fill="#443a83"/>
<rect x="419.20" y="215.42" width="10.71" height="23.24" fill="#d2e21b"/>
<rect x="429.11" y="215.42" width="10.71" height="23.24" fill="#fde725"/>
<rect x="439.02" y="215.42" width="10.71" height="23.24" fill="#a2da37"/>
<rect x="448.93" y="215.42" width="10.71" height="23.24" fill="#7ad151"/>
<rect x="458.84" y="215.42" width="10.71" height="23.24" fill="#d2e21b"/>
<rect x="468.76" y="215.42" width="10.71" height="23.24" fill="#dfe318"/>
<rect x="478.67" y="215.42" width="10.71" height="23.24" fill="#ece51b"/>
<rect x="488.58" y="215.42" width="10.71" height="23.24" fill="#21918c"/>
<rect x="498.49" y="215.42" width="10.71" height="23.24" fill="#3bbb75"/>
<rect x="508.40" y="215.42" width="10.71" height="23.24" fill="#29af7f"/>
<rect x="518.32" y="215.42" width="10.71" height="23.24" fill="#29af7f"/>
<rect x="528.23" y="215.42" width="10.71" height="23.24" fill="#1f978b"/>
<rect x="538.14" y="215.42" width="10.71" height="23.24" fill="#355f8d"/>
<rect x="548.05" y="215.42" width="10.71" height="23.24" fill="#d2e21b"/>
<rect x="557.96" y="215.42" width="10.71" height="23.24" fill="#33628d"/>
<rect x="567.88" y="215.42" width="10.71" height="23.24" fill="#375a8c"/>
<rect x="577.79" y="215.42" width="9.91" height="23.24" fill="#33628d"/>
<rect x="92.10" y="237.85" width="10.71" height="23.24" fill="#414487"/>
<rect x="102.01" y="237.85" width="10.71" height="23.24" fill="#450457"/>
<rect x="111.92" y="237.85" width="10.71" height="23.24" fill="#2d718e"/>
<rect x="121.84" y="237.85" width="10.71" height="23.24" fill="#33628d"/>
<rect x="131.75" y="237.85" width="10.71" height="23.24" fill="#2e6f8e"/>
<rect x="141.66" y="237.85" width="10.71" height="23.24" fill="#404688"/>
<rect x="151.57" y="237.85" width="10.71" height="23.24" fill="#375a8c"/>
<rect x="161.48" y="237.85" width="10.71" height="23.24" fill="#2d718e"/>
<rect x="171.40" y="237.85" width="10.71" height="23.24" fill="#32648e"/>
<rect x="181.31" y="237.85" width="10.71" height="23.24" fill="#25848e"/>
<rect x="191.22" y="237.85" width="10.71" height="23.24" fill="#fde725"/>
<rect x="201.13" y="237.85" width="10.71" height="23.24" fill="#32b67a"/>
<rect x="211.04" y="237.85" width="10.71" height="23.24" fill="#1f978b"/>
<rect x="220.96" y="237.85" width="10.71" height="23.24" fill="#3bbb75"/>
<rect x="230.87" y="237.85" width="10.71" height="23.24" fill="#2a788e"/>
<rect x="240.78" y="237.85" width="10.71" height="23.24" fill="#228b8d"/>
<rect x="250.69" y="237.85" width="10.71" height="23.24" fill="#23898e"/>
<rect x="260.60" y="237.85" width="10.71" height="23.24" fill="#1f978b"/>
<rect x="270.52" y="237.85" width="10.71" height="23.24" fill="#355f8d"/>
<rect x="280.43" y="237.85" width="10.71" height="23.24" fill="#21918c"/>
<rect x="290.34" y="237.85" width="10.71" height="23.24" fill="#375a8c"/>
<rect x="300.25" y="237.85" width="10.71" height="23.24" fill="#433e85"/>
<rect x="310.16" y="237.85" width="10.71" height="23.24" fill="#2f6c8e"/>
<rect x="320.08" y="237.85" width="10.71" height="23.24" fill="#26828e"/>
<rect x="329.99" y="237.85" width="10.71" height="23.24" fill="#228b8d"/>
<rect x="339.90" y="237.85" width="10.71" height="23.24" fill="#46307e"/>
<rect x="349.81" y="237.85" width="10.71" height="23.24" fill="#355f8d"/>
<rect x="359.72" y="237.85" width="10.71" height="23.24" fill="#25848e"/>
<rect x="369.64" y="237.85" width="10.71" height="23.24" fill="#26828e"/>
<rect x="379.55" y="237.85" width="10.71" height="23.24" fill="#2d718e"/>
<rect x="389.46" y="237.85" width="10.71" height="23.24" fill="#414487"/>
<rect x="399.37" y="237.85" width="10.71" height="23.24" fill="#31678e"/>
<rect x="409.28" y="237.85" width="10.71" height="23.24" fill="#46307e"/>
<rect x="419.20" y="237.85" width="10.71" height="23.24" fill="#1f9f88"/>
<rect x="429.11" y="237.85" width="10.71" height="23.24" fill="#6ece58"/>
<rect x="439.02" y="237.85" width="10.71" height="23.24" fill="#25848e"/>
<rect x="448.93" y="237.85" width="10.71" height="23.24" fill="#31678e"/>
<rect x="458.84" y="237.85" width="10.71" height="23.24" fill="#24868e"/>
<rect x="468.76" y="237.85" width="10.71" height="23.24" fill="#1f978b"/>
<rect x="478.67" y="237.85" width="10.71" height="23.24" fill="#1f9f88"/>
<rect x="488.58" y="237.85" width="10.71" height="23.24" fill="#481d6f"/>
<rect x="498.49" y="237.85" width="10.71" height="23.24" fill="#1f978b"/>
<rect x="508.40" y="237.85" width="10.71" height="23.24" fill="#2e6f8e"/>
<rect x="518.32" y="237.85" width="10.71" height="23.24" fill="#2e6f8e"/>
<rect x="528.23" y="237.85" width="10.71" height="23.24" fill="#481d6f"/>
<rect x="538.14" y="237.85" width="10.71" height="23.24" fill="#471063"/>
<rect x="548.05" y="237.85" width="10.71" height="23.24" fill="#4ec36b"/>
<rect x="557.96" y="237.85" width="10.71" height="23.24" fill="#471365"/>
<rect x="567.88" y="237.85" width="10.71" height="23.24" fill="#433e85"/>
<rect x="577.79" y="237.85" width="9.91" height="23.24" fill="#481d6f"/>
<rect x="92.10" y="260.29" width="10.71" height="23.24" fill="#3b528b"/>
<rect x="102.01" y="260.29" width="10.71" height="23.24" fill="#424086"/>
<rect x="111.92" y="260.29" width="10.71" height="23.24" fill="#22a884"/>
<rect x="121.84" y="260.29" width="10.71" height="23.24" fill="#33628d"/>
<rect x="131.75" y="260.29" width="10.71" height="23.24" fill="#25848e"/>
<rect x="141.66" y="260.29" width="10.71" height="23.24" fill="#3b528b"/>
<rect x="151.57" y="260.29" width="10.71" height="23.24" fill="#2e6f8e"/>
<rect x="161.48" y="260.29" width="10.71" height="23.24" fill="#2d718e"/>
<rect x="171.40" y="260.29" width="10.71" height="23.24" fill="#375a8c"/>
<rect x="181.31" y="260.29" width="10.71" height="23.24" fill="#2cb17e"/>
<rect x="191.22" y="260.29" width="10.71" height="23.24" fill="#fde725"/>
<rect x="201.13" y="260.29" width="10.71" height="23.24" fill="#228b8d"/>
<rect x="211.04" y="260.29" width="10.71" height="23.24" fill="#1e9c89"/>
<rect x="220.96" y="260.29" width="10.71" height="23.24" fill="#48c16e"/>
<rect x="230.87" y="260.29" width="10.71" height="23.24" fill="#2cb17e"/>
<rect x="240.78" y="260.29" width="10.71" height="23.24" fill="#297a8e"/>
<rect x="250.69" y="260.29" width="10.71" height="23.24" fill="#297a8e"/>
<rect x="260.60" y="260.29" width="10.71" height="23.24" fill="#1e9c89"/>
<rect x="270.52" y="260.29" width="10.71" height="23.24" fill="#21918c"/>
<rect x="280.43" y="260.29" width="10.71" height="23.24" fill="#20928c"/>
<rect x="290.34" y="260.29" width="10.71" height="23.24" fill="#3a548c"/>
<rect x="300.25" y="260.29" width="10.71" height="23.24" fill="#2b758e"/>
<rect x="310.16" y="260.29" width="10.71" height="23.24" fill="#21918c"/>
<rect x="320.08" y="260.29" width="10.71" height="23.24" fill="#1f978b"/>
<rect x="329.99" y="260.29" width="10.71" height="23.24" fill="#21918c"/>
<rect x="339.90" y="260.29" width="10.71" height="23.24" fill="#2e6f8e"/>
<rect x="349.81" y="260.29" width="10.71" height="23.24" fill="#287d8e"/>
<rect x="359.72" y="260.29" width="10.71" height="23.24" fill="#287d8e"/>
<rect x="369.64" y="260.29" width="10.71" height="23.24" fill="#1f978b"/>
<rect x="379.55" y="260.29" width="10.71" height="23.24" fill="#1f978b"/>
<rect x="389.46" y="260.29" width="10.71" height="23.24" fill="#375a8c"/>
<rect x="399.37" y="260.29" width="10.71" height="23.24" fill="#2f6c8e"/>
<rect x="409.28" y="260.29" width="10.71" height="23.24" fill="#2f6c8e"/>
<rect x="419.20" y="260.29" width="10.71" height="23.24" fill="#52c569"/>
<rect x="429.11" y="260.29" width="10.71" height="23.24" fill="#bddf26"/>
<rect x="439.02" y="260.29" width="10.71" height="23.24" fill="#29af7f"/>
<rect x="448.93" y="260.29" width="10.71" height="23.24" fill="#287d8e"/>
<rect x="458.84" y="260.29" width="10.71" height="23.24" fill="#44bf70"/>
<rect x="468.76" y="260.29" width="10.71" height="23.24" fill="#1fa188"/>
<rect x="478.67" y="260.29" width="10.71" height="23.24" fill="#20a386"/>
<rect x="488.58" y="260.29" width="10.71" height="23.24" fill="#424086"/>
<rect x="498.49" y="260.29" width="10.71" height="23.24" fill="#26ad81"/>
<rect x="508.40" y="260.29" width="10.71" height="23.24" fill="#2e6f8e"/>
<rect x="518.32" y="260.29" width="10.71" height="23.24" fill="#27808e"/>
<rect x="528.23" y="260.29" width="10.71" height="23.24" fill="#46085c"/>
<rect x="538.14" y="260.29" width="10.71" height="23.24" fill="#3e4989"/>
<rect x="548.05" y="260.29" width="10.71" height="23.24" fill="#7ad151"/>
<rect x="557.96" y="260.29" width="10.71" height="23.24" fill="#481769"/>
<rect x="567.88" y="260.29" width="10.71" height="23.24" fill="#2e6f8e"/>
<rect x="577.79" y="260.29" width="9.91" height="23.24" fill="#481d6f"/>
<rect x="92.10" y="282.72" width="10.71" height="23.24" fill="#453781"/>
<rect x="102.01" y="282.72" width="10.71" height="23.24" fill="#463480"/>
<rect x="111.92" y="282.72" width="10.71" height="23.24" fill="#355f8d"/>
<rect x="121.84" y="282.72" width="10.71" height="23.24" fill="#3e4c8a"/>
<rect x="131.75" y="282.72" width="10.71" height="23.24" fill="#3c4f8a"/>
<rect x="141.66" y="282.72" width="10.71" height="23.24" fill="#33628d"/>
<rect x="151.57" y="282.72" width="10.71" height="23.24" fill="#3e4c8a"/>
<rect x="161.48" y="282.72" width="10.71" height="23.24" fill="#433e85"/>
<rect x="171.40" y="282.72" width="10.71" height="23.24" fill="#481d6f"/>
<rect x="181.31" y="282.72" width="10.71" height="23.24" fill="#2f6c8e"/>
<rect x="191.22" y="282.72" width="10.71" height="23.24" fill="#22a884"/>
<rect x="201.13" y="282.72" width="10.71" height="23.24" fill="#25848e"/>
<rect x="211.04" y="282.72" width="10.71" height="23.24" fill="#25848e"/>
<rect x="220.96" y="282.72" width="10.71" height="23.24" fill="#23898e"/>
<rect x="230.87" y="282.72" width="10.71" height="23.24" fill="#2d718e"/>
<rect x="240.78" y="282.72" width="10.71" height="23.24" fill="#3b528b"/>
<rect x="250.69" y="282.72" width="10.71" height="23.24" fill="#3a548c"/>
<rect x="260.60" y="282.72" width="10.71" height="23.24" fill="#32648e"/>
<rect x="270.52" y="282.72" width="10.71" height="23.24" fill="#424086"/>
<rect x="280.43" y="282.72" width="10.71" height="23.24" fill="#3a548c"/>
<rect x="290.34" y="282.72" width="10.71" height="23.24" fill="#414487"/>
<rect x="300.25" y="282.72" width="10.71" height="23.24" fill="#3b528b"/>
<rect x="310.16" y="282.72" width="10.71" height="23.24" fill="#3b528b"/>
<rect x="320.08" y="282.72" width="10.71" height="23.24" fill="#21918c"/>
<rect x="329.99" y="282.72" width="10.71" height="23.24" fill="#3b528b"/>
<rect x="339.90" y="282.72" width="10.71" height="23.24" fill="#482878"/>
<rect x="349.81" y="282.72" width="10.71" height="23.24" fill="#3a548c"/>
<rect x="359.72" y="282.72" width="10.71" height="23.24" fill="#2f6c8e"/>
<rect x="369.64" y="282.72" width="10.71" height="23.24" fill="#21918c"/>
<rect x="379.55" y="282.72" width="10.71" height="23.24" fill="#21918c"/>
<rect x="389.46" y="282.72" width="10.71" height="23.24" fill="#482475"/>
<rect x="399.37" y="282.72" width="10.71" height="23.24" fill="#46307e"/>
<rect x="409.28" y="282.72" width="10.71" height="23.24" fill="#404688"/>
<rect x="419.20" y="282.72" width="10.71" height="23.24" fill="#bddf26"/>
<rect x="429.11" y="282.72" width="10.71" height="23.24" fill="#fde725"/>
<rect x="439.02" y="282.72" width="10.71" height="23.24" fill="#22a884"/>
<rect x="448.93" y="282.72" width="10.71" height="23.24" fill="#20a386"/>
<rect x="458.84" y="282.72" width="10.71" height="23.24" fill="#1e9c89"/>
<rect x="468.76" y="282.72" width="10.71" height="23.24" fill="#1f978b"/>
<rect x="478.67" y="282.72" width="10.71" height="23.24" fill="#21918c"/>
<rect x="488.58" y="282.72" width="10.71" height="23.24" fill="#31678e"/>
<rect x="498.49" y="282.72" width="10.71" height="23.24" fill="#44bf70"/>
<rect x="508.40" y="282.72" width="10.71" height="23.24" fill="#1e9c89"/>
<rect x="518.32" y="282.72" width="10.71" height="23.24" fill="#1e9c89"/>
<rect x="528.23" y="282.72" width="10.71" height="23.24" fill="#31678e"/>
<rect x="538.14" y="282.72" width="10.71" height="23.24" fill="#3b528b"/>
<rect x="548.05" y="282.72" width="10.71" height="23.24" fill="#bddf26"/>
<rect x="557.96" y="282.72" width="10.71" height="23.24" fill="#46085c"/>
<rect x="567.88" y="282.72" width="10.71" height="23.24" fill="#20928c"/>
<rect x="577.79" y="282.72" width="9.91" height="23.24" fill="#440154"/>
<rect x="92.10" y="305.16" width="10.71" height="23.24" fill="#46307e"/>
<rect x="102.01" y="305.16" width="10.71" height="23.24" fill="#482173"/>
<rect x="111.92" y="305.16" width="10.71" height="23.24" fill="#32648e"/>
<rect x="121.84" y="305.16" width="10.71" height="23.24" fill="#2f6c8e"/>
<rect x="131.75" y="305.16" width="10.71" height="23.24" fill="#2a788e"/>
<rect x="141.66" y="305.16" width="10.71" height="23.24" fill="#3e4c8a"/>
<rect x="151.57" y="305.16" width="10.71" height="23.24" fill="#375a8c"/>
<rect x="161.48" y="305.16" width="10.71" height="23.24" fill="#2d718e"/>
<rect x="171.40" y="305.16" width="10.71" height="23.24" fill="#482475"/>
<rect x="181.31" y="305.16" width="10.71" height="23.24" fill="#23898e"/>
<rect x="191.22" y="305.16" width="10.71" height="23.24" fill="#fde725"/>
<rect x="201.13" y="305.16" width="10.71" height="23.24" fill="#3bbb75"/>
<rect x="211.04" y="305.16" width="10.71" height="23.24" fill="#1e9c89"/>
<rect x="220.96" y="305.16" width="10.71" height="23.24" fill="#48c16e"/>
<rect x="230.87" y="305.16" width="10.71" height="23.24" fill="#2a788e"/>
<rect x="240.78" y="305.16" width="10.71" height="23.24" fill="#3a548c"/>
<rect x="250.69" y="305.16" width="10.71" height="23.24" fill="#355f8d"/>
<rect x="260.60" y="305.16" width="10.71" height="23.24" fill="#22a884"/>
<rect x="270.52" y="305.16" width="10.71" height="23.24" fill="#3e4c8a"/>
<rect x="280.43" y="305.16" width="10.71" height="23.24" fill="#375a8c"/>
<rect x="290.34" y="305.16" width="10.71" height="23.24" fill="#2c738e"/>
<rect x="300.25" y="305.16" width="10.71" height="23.24" fill="#472a7a"/>
<rect x="310.16" y="305.16" width="10.71" height="23.24" fill="#38588c"/>
<rect x="320.08" y="305.16" width="10.71" height="23.24" fill="#21918c"/>
<rect x="329.99" y="305.16" width="10.71" height="23.24" fill="#3b528b"/>
<rect x="339.90" y="305.16" width="10.71" height="23.24" fill="#472a7a"/>
<rect x="349.81" y="305.16" width="10.71" height="23.24" fill="#3a548c"/>
<rect x="359.72" y="305.16" width="10.71" height="23.24" fill="#2f6c8e"/>
<rect x="369.64" y="305.16" width="10.71" height="23.24" fill="#26828e"/>
<rect x="379.55" y="305.16" width="10.71" height="23.24" fill="#27808e"/>
<rect x="389.46" y="305.16" width="10.71" height="23.24" fill="#481a6c"/>
<rect x="399.37" y="305.16" width="10.71" height="23.24" fill="#414487"/>
<rect x="409.28" y="305.16" width="10.71" height="23.24" fill="#482475"/>
<rect x="419.20" y="305.16" width="10.71" height="23.24" fill="#32b67a"/>
<rect x="429.11" y="305.16" width="10.71" height="23.24" fill="#b5de2b"/>
<rect x="439.02" y="305.16" width="10.71" height="23.24" fill="#22a884"/>
<rect x="448.93" y="305.16" width="10.71" height="23.24" fill="#6ece58"/>
<rect x="458.84" y="305.16" width="10.71" height="23.24" fill="#52c569"/>
<rect x="468.76" y="305.16" width="10.71" height="23.24" fill="#95d840"/>
<rect x="478.67" y="305.16" width="10.71" height="23.24" fill="#a2da37"/>
<rect x="488.58" y="305.16" width="10.71" height="23.24" fill="#443a83"/>
<rect x="498.49" y="305.16" width="10.71" height="23.24" fill="#1e9c89"/>
<rect x="508.40" y="305.16" width="10.71" height="23.24" fill="#2a788e"/>
<rect x="518.32" y="305.16" width="10.71" height="23.24" fill="#27808e"/>
<rect x="528.23" y="305.16" width="10.71" height="23.24" fill="#482878"/>
<rect x="538.14" y="305.16" width="10.71" height="23.24" fill="#46307e"/>
<rect x="548.05" y="305.16" width="10.71" height="23.24" fill="#7ad151"/>
<rect x="557.96" y="305.16" width="10.71" height="23.24" fill="#440154"/>
<rect x="567.88" y="305.16" width="10.71" height="23.24" fill="#375a8c"/>
<rect x="577.79" y="305.16" width="9.91" height="23.24" fill="#440154"/>
<rect x="92.10" y="327.59" width="10.71" height="23.24" fill="#453781"/>
<rect x="102.01" y="327.59" width="10.71" height="23.24" fill="#46307e"/>
<rect x="111.92" y="327.59" width="10.71" height="23.24" fill="#414487"/>
<rect x="121.84" y="327.59" width="10.71" height="23.24" fill="#3e4989"/>
<rect x="131.75" y="327.59" width="10.71" height="23.24" fill="#404688"/>
<rect x="141.66" y="327.59" width="10.71" height="23.24" fill="#33628d"/>
<rect x="151.57" y="327.59" width="10.71" height="23.24" fill="#3b528b"/>
<rect x="161.48" y="327.59" width="10.71" height="23.24" fill="#472e7c"/>
<rect x="171.40" y="327.59" width="10.71" height="23.24" fill="#481a6c"/>
<rect x="181.31" y="327.59" width="10.71" height="23.24" fill="#33628d"/>
<rect x="191.22" y="327.59" width="10.71" height="23.24" fill="#5ec962"/>
<rect x="201.13" y="327.59" width="10.71" height="23.24" fill="#414487"/>
<rect x="211.04" y="327.59" width="10.71" height="23.24" fill="#2c738e"/>
<rect x="220.96" y="327.59" width="10.71" height="23.24" fill="#433e85"/>
<rect x="230.87" y="327.59" width="10.71" height="23.24" fill="#2e6f8e"/>
<rect x="240.78" y="327.59" width="10.71" height="23.24" fill="#355f8d"/>
<rect x="250.69" y="327.59" width="10.71" height="23.24" fill="#375a8c"/>
<rect x="260.60" y="327.59" width="10.71" height="23.24" fill="#2f6c8e"/>
<rect x="270.52" y="327.59" width="10.71" height="23.24" fill="#443a83"/>
<rect x="280.43" y="327.59" width="10.71" height="23.24" fill="#3e4989"/>
<rect x="290.34" y="327.59" width="10.71" height="23.24" fill="#31678e"/>
<rect x="300.25" y="327.59" width="10.71" height="23.24" fill="#482475"/>
<rect x="310.16" y="327.59" width="10.71" height="23.24" fill="#482878"/>
<rect x="320.08" y="327.59" width="10.71" height="23.24" fill="#482878"/>
<rect x="329.99" y="327.59" width="10.71" height="23.24" fill="#3b528b"/>
<rect x="339.90" y="327.59" width="10.71" height="23.24" fill="#481a6c"/>
<rect x="349.81" y="327.59" width="10.71" height="23.24" fill="#481769"/>
<rect x="359.72" y="327.59" width="10.71" height="23.24" fill="#440154"/>
<rect x="369.64" y="327.59" width="10.71" height="23.24" fill="#472a7a"/>
<rect x="379.55" y="327.59" width="10.71" height="23.24" fill="#3b528b"/>
<rect x="389.46" y="327.59" width="10.71" height="23.24" fill="#471063"/>
<rect x="399.37" y="327.59" width="10.71" height="23.24" fill="#481d6f"/>
<rect x="409.28" y="327.59" width="10.71" height="23.24" fill="#481a6c"/>
<rect x="419.20" y="327.59" width="10.71" height="23.24" fill="#86d549"/>
<rect x="429.11" y="327.59" width="10.71" height="23.24" fill="#fde725"/>
<rect x="439.02" y="327.59" width="10.71" height="23.24" fill="#32b67a"/>
<rect x="448.93" y="327.59" width="10.71" height="23.24" fill="#52c569"/>
<rect x="458.84" y="327.59" width="10.71" height="23.24" fill="#5ec962"/>
<rect x="468.76" y="327.59" width="10.71" height="23.24" fill="#a2da37"/>
<rect x="478.67" y="327.59" width="10.71" height="23.24" fill="#a8db34"/>
<rect x="488.58" y="327.59" width="10.71" height="23.24" fill="#3b528b"/>
<rect x="498.49" y="327.59" width="10.71" height="23.24" fill="#37b878"/>
<rect x="508.40" y="327.59" width="10.71" height="23.24" fill="#21918c"/>
<rect x="518.32" y="327.59" width="10.71" height="23.24" fill="#218e8d"/>
<rect x="528.23" y="327.59" width="10.71" height="23.24" fill="#414487"/>
<rect x="538.14" y="327.59" width="10.71" height="23.24" fill="#414487"/>
<rect x="548.05" y="327.59" width="10.71" height="23.24" fill="#e5e419"/>
<rect x="557.96" y="327.59" width="10.71" height="23.24" fill="#440154"/>
<rect x="567.88" y="327.59" width="10.71" height="23.24" fill="#2a788e"/>
<rect x="577.79" y="327.59" width="9.91" height="23.24" fill="#46307e"/>
<rect x="92.10" y="350.03" width="10.71" height="23.24" fill="#2d718e"/>
<rect x="102.01" y="350.03" width="10.71" height="23.24" fill="#2e6f8e"/>
<rect x="111.92" y="350.03" width="10.71" height="23.24" fill="#1f958b"/>
<rect x="121.84" y="350.03" width="10.71" height="23.24" fill="#2a788e"/>
<rect x="131.75" y="350.03" width="10.71" height="23.24" fill="#20928c"/>
<rect x="141.66" y="350.03" width="10.71" height="23.24" fill="#2c738e"/>
<rect x="151.57" y="350.03" width="10.71" height="23.24" fill="#26828e"/>
<rect x="161.48" y="350.03" width="10.71" height="23.24" fill="#1f978b"/>
<rect x="171.40" y="350.03" width="10.71" height="23.24" fill="#3b528b"/>
<rect x="181.31" y="350.03" width="10.71" height="23.24" fill="#1e9c89"/>
<rect x="191.22" y="350.03" width="10.71" height="23.24" fill="#fde725"/>
<rect x="201.13" y="350.03" width="10.71" height="23.24" fill="#2a788e"/>
<rect x="211.04" y="350.03" width="10.71" height="23.24" fill="#32b67a"/>
<rect x="220.96" y="350.03" width="10.71" height="23.24" fill="#22a884"/>
<rect x="230.87" y="350.03" width="10.71" height="23.24" fill="#1f978b"/>
<rect x="240.78" y="350.03" width="10.71" height="23.24" fill="#1f978b"/>
<rect x="250.69" y="350.03" width="10.71" height="23.24" fill="#1e9c89"/>
<rect x="260.60" y="350.03" width="10.71" height="23.24" fill="#1e9c89"/>
<rect x="270.52" y="350.03" width="10.71" height="23.24" fill="#2a788e"/>
<rect x="280.43" y="350.03" width="10.71" height="23.24" fill="#2a788e"/>
<rect x="290.34" y="350.03" width="10.71" height="23.24" fill="#33628d"/>
<rect x="300.25" y="350.03" width="10.71" height="23.24" fill="#2f6c8e"/>
<rect x="310.16" y="350.03" width="10.71" height="23.24" fill="#25848e"/>
<rect x="320.08" y="350.03" width="10.71" height="23.24" fill="#287d8e"/>
<rect x="329.99" y="350.03" width="10.71" height="23.24" fill="#21918c"/>
<rect x="339.90" y="350.03" width="10.71" height="23.24" fill="#31678e"/>
<rect x="349.81" y="350.03" width="10.71" height="23.24" fill="#23898e"/>
<rect x="359.72" y="350.03" width="10.71" height="23.24" fill="#26828e"/>
<rect x="369.64" y="350.03" width="10.71" height="23.24" fill="#26828e"/>
<rect x="379.55" y="350.03" width="10.71" height="23.24" fill="#27808e"/>
<rect x="389.46" y="350.03" width="10.71" height="23.24" fill="#3e4989"/>
<rect x="399.37" y="350.03" width="10.71" height="23.24" fill="#2a788e"/>
<rect x="409.28" y="350.03" width="10.71" height="23.24" fill="#3b528b"/>
<rect x="419.20" y="350.03" width="10.71" height="23.24" fill="#22a884"/>
<rect x="429.11" y="350.03" width="10.71" height="23.24" fill="#7ad151"/>
<rect x="439.02" y="350.03" width="10.71" height="23.24" fill="#2d718e"/>
<rect x="448.93" y="350.03" width="10.71" height="23.24" fill="#1e9c89"/>
<rect x="458.84" y="350.03" width="10.71" height="23.24" fill="#31678e"/>
<rect x="468.76" y="350.03" width="10.71" height="23.24" fill="#297a8e"/>
<rect x="478.67" y="350.03" width="10.71" height="23.24" fill="#1e9c89"/>
<rect x="488.58" y="350.03" width="10.71" height="23.24" fill="#481d6f"/>
<rect x="498.49" y="350.03" width="10.71" height="23.24" fill="#1f978b"/>
<rect x="508.40" y="350.03" width="10.71" height="23.24" fill="#2e6f8e"/>
<rect x="518.32" y="350.03" width="10.71" height="23.24" fill="#23898e"/>
<rect x="528.23" y="350.03" width="10.71" height="23.24" fill="#482878"/>
<rect x="538.14" y="350.03" width="10.71" height="23.24" fill="#440154"/>
<rect x="548.05" y="350.03" width="10.71" height="23.24" fill="#37b878"/>
<rect x="557.96" y="350.03" width="10.71" height="23.24" fill="#424086"/>
<rect x="567.88" y="350.03" width="10.71" height="23.24" fill="#46307e"/>
<rect x="577.79" y="350.03" width="9.91" height="23.24" fill="#3a548c"/>
<rect x="92.10" y="372.46" width="10.71" height="22.44" fill="#2f6c8e"/>
<rect x="102.01" y="372.46" width="10.71" height="22.44" fill="#414487"/>
<rect x="111.92" y="372.46" width="10.71" height="22.44" fill="#44bf70"/>
<rect x="121.84" y="372.46" width="10.71" height="22.44" fill="#2b758e"/>
<rect x="131.75" y="372.46" width="10.71" height="22.44" fill="#23898e"/>
<rect x="141.66" y="372.46" width="10.71" height="22.44" fill="#3c4f8a"/>
<rect x="151.57" y="372.46" width="10.71" height="22.44" fill="#2d718e"/>
<rect x="161.48" y="372.46" width="10.71" height="22.44" fill="#23898e"/>
<rect x="171.40" y="372.46" width="10.71" height="22.44" fill="#1f958b"/>
<rect x="181.31" y="372.46" width="10.71" height="22.44" fill="#3bbb75"/>
<rect x="191.22" y="372.46" width="10.71" height="22.44" fill="#fde725"/>
<rect x="201.13" y="372.46" width="10.71" height="22.44" fill="#b0dd2f"/>
<rect x="211.04" y="372.46" width="10.71" height="22.44" fill="#7ad151"/>
<rect x="220.96" y="372.46" width="10.71" height="22.44" fill="#7ad151"/>
<rect x="230.87" y="372.46" width="10.71" height="22.44" fill="#3bbb75"/>
<rect x="240.78" y="372.46" width="10.71" height="22.44" fill="#44bf70"/>
<rect x="250.69" y="372.46" width="10.71" height="22.44" fill="#44bf70"/>
<rect x="260.60" y="372.46" width="10.71" height="22.44" fill="#5ec962"/>
<rect x="270.52" y="372.46" width="10.71" height="22.44" fill="#32b67a"/>
<rect x="280.43" y="372.46" width="10.71" height="22.44" fill="#44bf70"/>
<rect x="290.34" y="372.46" width="10.71" height="22.44" fill="#355f8d"/>
<rect x="300.25" y="372.46" width="10.71" height="22.44" fill="#2f6c8e"/>
<rect x="310.16" y="372.46" width="10.71" height="22.44" fill="#22a884"/>
<rect x="320.08" y="372.46" width="10.71" height="22.44" fill="#22a884"/>
<rect x="329.99" y="372.46" width="10.71" height="22.44" fill="#5ec962"/>
<rect x="339.90" y="372.46" width="10.71" height="22.44" fill="#2c738e"/>
<rect x="349.81" y="372.46" width="10.71" height="22.44" fill="#1e9c89"/>
<rect x="359.72" y="372.46" width="10.71" height="22.44" fill="#5ec962"/>
<rect x="369.64" y="372.46" width="10.71" height="22.44" fill="#20a386"/>
<rect x="379.55" y="372.46" width="10.71" height="22.44" fill="#21918c"/>
<rect x="389.46" y="372.46" width="10.71" height="22.44" fill="#2f6c8e"/>
<rect x="399.37" y="372.46" width="10.71" height="22.44" fill="#22a884"/>
<rect x="409.28" y="372.46" width="10.71" height="22.44" fill="#3b528b"/>
<rect x="419.20" y="372.46" width="10.71" height="22.44" fill="#1f978b"/>
<rect x="429.11" y="372.46" width="10.71" height="22.44" fill="#7ad151"/>
<rect x="439.02" y="372.46" width="10.71" height="22.44" fill="#21918c"/>
<rect x="448.93" y="372.46" width="10.71" height="22.44" fill="#2a788e"/>
<rect x="458.84" y="372.46" width="10.71" height="22.44" fill="#2a788e"/>
<rect x="468.76" y="372.46" width="10.71" height="22.44" fill="#2a788e"/>
<rect x="478.67" y="372.46" width="10.71" height="22.44" fill="#25848e"/>
<rect x="488.58" y="372.46" width="10.71" height="22.44" fill="#433e85"/>
<rect x="498.49" y="372.46" width="10.71" height="22.44" fill="#44bf70"/>
<rect x="508.40" y="372.46" width="10.71" height="22.44" fill="#32b67a"/>
<rect x="518.32" y="372.46" width="10.71" height="22.44" fill="#3bbb75"/>
<rect x="528.23" y="372.46" width="10.71" height="22.44" fill="#2e6f8e"/>
<rect x="538.14" y="372.46" width="10.71" height="22.44" fill="#440154"/>
<rect x="548.05" y="372.46" width="10.71" height="22.44" fill="#44bf70"/>
<rect x="557.96" y="372.46" width="10.71" height="22.44" fill="#414487"/>
<rect x="567.88" y="372.46" width="10.71" height="22.44" fill="#481d6f"/>
<rect x="577.79" y="372.46" width="9.91" height="22.44" fill="#2a788e"/>
</g>
<rect x="190.50" y="13.50" width="1.45" height="381.40" fill="#fff"/>
<rect x="299.53" y="13.50" width="1.45" height="381.40" fill="#fff"/>
<rect x="418.48" y="13.50" width="1.45" height="381.40" fill="#fff"/>
<rect x="487.86" y="13.50" width="1.45" height="381.40" fill="#fff"/>
<rect x="92.10" y="13.50" width="495.60" height="381.40" fill="none" stroke="#222" stroke-width="0.6"/>
<line x1="89.15" y1="24.72" x2="92.10" y2="24.72" stroke="#262626" stroke-width="0.7"/>
<text x="86.2" y="28.42" font-size="8.60" text-anchor="end" textLength="55.99" lengthAdjust="spacingAndGlyphs">UKESM1-0-LL</text>
<line x1="89.15" y1="47.15" x2="92.10" y2="47.15" stroke="#262626" stroke-width="0.7"/>
<text x="86.2" y="50.85" font-size="8.60" text-anchor="end" textLength="55.97" lengthAdjust="spacingAndGlyphs">NorESM2-MM</text>
<line x1="89.15" y1="69.59" x2="92.10" y2="69.59" stroke="#262626" stroke-width="0.7"/>
<text x="86.2" y="73.29" font-size="8.60" text-anchor="end" textLength="29.69" lengthAdjust="spacingAndGlyphs">NESM3</text>
<line x1="89.15" y1="92.02" x2="92.10" y2="92.02" stroke="#262626" stroke-width="0.7"/>
<text x="86.2" y="95.72" font-size="8.60" text-anchor="end" textLength="50.50" lengthAdjust="spacingAndGlyphs">MRI-ESM2-0</text>
<line x1="89.15" y1="114.46" x2="92.10" y2="114.46" stroke="#262626" stroke-width="0.7"/>
<text x="86.2" y="118.16" font-size="8.60" text-anchor="end" textLength="63.35" lengthAdjust="spacingAndGlyphs">MPI-ESM1-2-LR</text>
<line x1="89.15" y1="136.89" x2="92.10" y2="136.89" stroke="#262626" stroke-width="0.7"/>
<text x="86.2" y="140.59" font-size="8.60" text-anchor="end" textLength="65.00" lengthAdjust="spacingAndGlyphs">MPI-ESM1-2-HR</text>
<line x1="89.15" y1="159.33" x2="92.10" y2="159.33" stroke="#262626" stroke-width="0.7"/>
<text x="86.2" y="163.03" font-size="8.60" text-anchor="end" textLength="58.35" lengthAdjust="spacingAndGlyphs">IPSL-CM6A-LR</text>
<line x1="89.15" y1="181.76" x2="92.10" y2="181.76" stroke="#262626" stroke-width="0.7"/>
<text x="86.2" y="185.46" font-size="8.60" text-anchor="end" textLength="46.15" lengthAdjust="spacingAndGlyphs">INM-CM4-8</text>
<line x1="89.15" y1="204.20" x2="92.10" y2="204.20" stroke="#262626" stroke-width="0.7"/>
<text x="86.2" y="207.90" font-size="8.60" text-anchor="end" textLength="51.86" lengthAdjust="spacingAndGlyphs">GISS-E2-1-G</text>
<line x1="89.15" y1="226.64" x2="92.10" y2="226.64" stroke="#262626" stroke-width="0.7"/>
<text x="86.2" y="230.34" font-size="8.60" text-anchor="end" textLength="48.89" lengthAdjust="spacingAndGlyphs">GFDL-ESM4</text>
<line x1="89.15" y1="249.07" x2="92.10" y2="249.07" stroke="#262626" stroke-width="0.7"/>
<text x="86.2" y="252.77" font-size="8.60" text-anchor="end" textLength="74.19" lengthAdjust="spacingAndGlyphs">EC-Earth3-Veg-LR</text>
<line x1="89.15" y1="271.51" x2="92.10" y2="271.51" stroke="#262626" stroke-width="0.7"/>
<text x="86.2" y="275.21" font-size="8.60" text-anchor="end" textLength="42.32" lengthAdjust="spacingAndGlyphs">EC-Earth3</text>
<line x1="89.15" y1="293.94" x2="92.10" y2="293.94" stroke="#262626" stroke-width="0.7"/>
<text x="86.2" y="297.64" font-size="8.60" text-anchor="end" textLength="39.80" lengthAdjust="spacingAndGlyphs">CanESM5</text>
<line x1="89.15" y1="316.38" x2="92.10" y2="316.38" stroke="#262626" stroke-width="0.7"/>
<text x="86.2" y="320.08" font-size="8.60" text-anchor="end" textLength="55.42" lengthAdjust="spacingAndGlyphs">CNRM-CM6-1</text>
<line x1="89.15" y1="338.81" x2="92.10" y2="338.81" stroke="#262626" stroke-width="0.7"/>
<text x="86.2" y="342.51" font-size="8.60" text-anchor="end" textLength="60.64" lengthAdjust="spacingAndGlyphs">BCC-CSM2-MR</text>
<line x1="89.15" y1="361.25" x2="92.10" y2="361.25" stroke="#262626" stroke-width="0.7"/>
<text x="86.2" y="364.95" font-size="8.60" text-anchor="end" textLength="68.34" lengthAdjust="spacingAndGlyphs">ACCESS-ESM1-5</text>
<line x1="89.15" y1="383.68" x2="92.10" y2="383.68" stroke="#262626" stroke-width="0.7"/>
<text x="86.2" y="387.38" font-size="8.60" text-anchor="end" textLength="55.12" lengthAdjust="spacingAndGlyphs">ACCESS-CM2</text>
<line x1="97.06" y1="394.90" x2="97.06" y2="397.85" stroke="#262626" stroke-width="0.7"/>
<text transform="translate(99.66 401.8) rotate(-90)" font-size="8.60" text-anchor="end" textLength="11.06" lengthAdjust="spacingAndGlyphs">CT</text>
<line x1="106.97" y1="394.90" x2="106.97" y2="397.85" stroke="#262626" stroke-width="0.7"/>
<text transform="translate(109.57 401.8) rotate(-90)" font-size="8.60" text-anchor="end" textLength="13.07" lengthAdjust="spacingAndGlyphs">MA</text>
<line x1="116.88" y1="394.90" x2="116.88" y2="397.85" stroke="#262626" stroke-width="0.7"/>
<text transform="translate(119.48 401.8) rotate(-90)" font-size="8.60" text-anchor="end" textLength="54.80" lengthAdjust="spacingAndGlyphs">DC-MD-VA(1)</text>
<line x1="126.79" y1="394.90" x2="126.79" y2="397.85" stroke="#262626" stroke-width="0.7"/>
<text transform="translate(129.39 401.8) rotate(-90)" font-size="8.60" text-anchor="end" textLength="35.43" lengthAdjust="spacingAndGlyphs">NJ-NY-PA</text>
<line x1="136.70" y1="394.90" x2="136.70" y2="397.85" stroke="#262626" stroke-width="0.7"/>
<text transform="translate(139.30 401.8) rotate(-90)" font-size="8.60" text-anchor="end" textLength="21.90" lengthAdjust="spacingAndGlyphs">NJ-PA</text>
<line x1="146.62" y1="394.90" x2="146.62" y2="397.85" stroke="#262626" stroke-width="0.7"/>
<text transform="translate(149.22 401.8) rotate(-90)" font-size="8.60" text-anchor="end" textLength="11.48" lengthAdjust="spacingAndGlyphs">NY</text>
<line x1="156.53" y1="394.90" x2="156.53" y2="397.85" stroke="#262626" stroke-width="0.7"/>
<text transform="translate(159.13 401.8) rotate(-90)" font-size="8.60" text-anchor="end" textLength="24.82" lengthAdjust="spacingAndGlyphs">CT-NY</text>
<line x1="166.44" y1="394.90" x2="166.44" y2="397.85" stroke="#262626" stroke-width="0.7"/>
<text transform="translate(169.04 401.8) rotate(-90)" font-size="8.60" text-anchor="end" textLength="36.79" lengthAdjust="spacingAndGlyphs">DE-NJ-PA</text>
<line x1="176.35" y1="394.90" x2="176.35" y2="397.85" stroke="#262626" stroke-width="0.7"/>
<text transform="translate(178.95 401.8) rotate(-90)" font-size="8.60" text-anchor="end" textLength="10.34" lengthAdjust="spacingAndGlyphs">PA</text>
<line x1="186.26" y1="394.90" x2="186.26" y2="397.85" stroke="#262626" stroke-width="0.7"/>
<text transform="translate(188.86 401.8) rotate(-90)" font-size="8.60" text-anchor="end" textLength="54.80" lengthAdjust="spacingAndGlyphs">DC-MD-VA(2)</text>
<line x1="196.18" y1="394.90" x2="196.18" y2="397.85" stroke="#262626" stroke-width="0.7"/>
<text transform="translate(198.78 401.8) rotate(-90)" font-size="8.60" text-anchor="end" textLength="21.54" lengthAdjust="spacingAndGlyphs">FL(1)</text>
<line x1="206.09" y1="394.90" x2="206.09" y2="397.85" stroke="#262626" stroke-width="0.7"/>
<text transform="translate(208.69 401.8) rotate(-90)" font-size="8.60" text-anchor="end" textLength="21.54" lengthAdjust="spacingAndGlyphs">FL(2)</text>
<line x1="216.00" y1="394.90" x2="216.00" y2="397.85" stroke="#262626" stroke-width="0.7"/>
<text transform="translate(218.60 401.8) rotate(-90)" font-size="8.60" text-anchor="end" textLength="21.54" lengthAdjust="spacingAndGlyphs">FL(3)</text>
<line x1="225.91" y1="394.90" x2="225.91" y2="397.85" stroke="#262626" stroke-width="0.7"/>
<text transform="translate(228.51 401.8) rotate(-90)" font-size="8.60" text-anchor="end" textLength="21.54" lengthAdjust="spacingAndGlyphs">FL(4)</text>
<line x1="235.82" y1="394.90" x2="235.82" y2="397.85" stroke="#262626" stroke-width="0.7"/>
<text transform="translate(238.42 401.8) rotate(-90)" font-size="8.60" text-anchor="end" textLength="12.33" lengthAdjust="spacingAndGlyphs">GA</text>
<line x1="245.74" y1="394.90" x2="245.74" y2="397.85" stroke="#262626" stroke-width="0.7"/>
<text transform="translate(248.34 401.8) rotate(-90)" font-size="8.60" text-anchor="end" textLength="24.19" lengthAdjust="spacingAndGlyphs">NC(1)</text>
<line x1="255.65" y1="394.90" x2="255.65" y2="397.85" stroke="#262626" stroke-width="0.7"/>
<text transform="translate(258.25 401.8) rotate(-90)" font-size="8.60" text-anchor="end" textLength="24.19" lengthAdjust="spacingAndGlyphs">NC(2)</text>
<line x1="265.56" y1="394.90" x2="265.56" y2="397.85" stroke="#262626" stroke-width="0.7"/>
<text transform="translate(268.16 401.8) rotate(-90)" font-size="8.60" text-anchor="end" textLength="26.53" lengthAdjust="spacingAndGlyphs">NC-SC</text>
<line x1="275.47" y1="394.90" x2="275.47" y2="397.85" stroke="#262626" stroke-width="0.7"/>
<text transform="translate(278.07 401.8) rotate(-90)" font-size="8.60" text-anchor="end" textLength="25.69" lengthAdjust="spacingAndGlyphs">KY-OH</text>
<line x1="285.38" y1="394.90" x2="285.38" y2="397.85" stroke="#262626" stroke-width="0.7"/>
<text transform="translate(287.98 401.8) rotate(-90)" font-size="8.60" text-anchor="end" textLength="11.48" lengthAdjust="spacingAndGlyphs">TN</text>
<line x1="295.30" y1="394.90" x2="295.30" y2="397.85" stroke="#262626" stroke-width="0.7"/>
<text transform="translate(297.90 401.8) rotate(-90)" font-size="8.60" text-anchor="end" textLength="11.02" lengthAdjust="spacingAndGlyphs">VA</text>
<line x1="305.21" y1="394.90" x2="305.21" y2="397.85" stroke="#262626" stroke-width="0.7"/>
<text transform="translate(307.81 401.8) rotate(-90)" font-size="8.60" text-anchor="end" textLength="18.91" lengthAdjust="spacingAndGlyphs">IL-IN</text>
<line x1="315.12" y1="394.90" x2="315.12" y2="397.85" stroke="#262626" stroke-width="0.7"/>
<text transform="translate(317.72 401.8) rotate(-90)" font-size="8.60" text-anchor="end" textLength="8.81" lengthAdjust="spacingAndGlyphs">IN</text>
<line x1="325.03" y1="394.90" x2="325.03" y2="397.85" stroke="#262626" stroke-width="0.7"/>
<text transform="translate(327.63 401.8) rotate(-90)" font-size="8.60" text-anchor="end" textLength="39.87" lengthAdjust="spacingAndGlyphs">KS-MO(1)</text>
<line x1="334.94" y1="394.90" x2="334.94" y2="397.85" stroke="#262626" stroke-width="0.7"/>
<text transform="translate(337.54 401.8) rotate(-90)" font-size="8.60" text-anchor="end" textLength="22.26" lengthAdjust="spacingAndGlyphs">IN-KY</text>
<line x1="344.86" y1="394.90" x2="344.86" y2="397.85" stroke="#262626" stroke-width="0.7"/>
<text transform="translate(347.46 401.8) rotate(-90)" font-size="8.60" text-anchor="end" textLength="26.07" lengthAdjust="spacingAndGlyphs">MI-OH</text>
<line x1="354.77" y1="394.90" x2="354.77" y2="397.85" stroke="#262626" stroke-width="0.7"/>
<text transform="translate(357.37 401.8) rotate(-90)" font-size="8.60" text-anchor="end" textLength="13.61" lengthAdjust="spacingAndGlyphs">MN</text>
<line x1="364.68" y1="394.90" x2="364.68" y2="397.85" stroke="#262626" stroke-width="0.7"/>
<text transform="translate(367.28 401.8) rotate(-90)" font-size="8.60" text-anchor="end" textLength="24.04" lengthAdjust="spacingAndGlyphs">IL-MO</text>
<line x1="374.59" y1="394.90" x2="374.59" y2="397.85" stroke="#262626" stroke-width="0.7"/>
<text transform="translate(377.19 401.8) rotate(-90)" font-size="8.60" text-anchor="end" textLength="39.87" lengthAdjust="spacingAndGlyphs">KS-MO(2)</text>
<line x1="384.50" y1="394.90" x2="384.50" y2="397.85" stroke="#262626" stroke-width="0.7"/>
<text transform="translate(387.10 401.8) rotate(-90)" font-size="8.60" text-anchor="end" textLength="22.80" lengthAdjust="spacingAndGlyphs">IA-NE</text>
<line x1="394.42" y1="394.90" x2="394.42" y2="397.85" stroke="#262626" stroke-width="0.7"/>
<text transform="translate(397.02 401.8) rotate(-90)" font-size="8.60" text-anchor="end" textLength="24.97" lengthAdjust="spacingAndGlyphs">OH(1)</text>
<line x1="404.33" y1="394.90" x2="404.33" y2="397.85" stroke="#262626" stroke-width="0.7"/>
<text transform="translate(406.93 401.8) rotate(-90)" font-size="8.60" text-anchor="end" textLength="24.97" lengthAdjust="spacingAndGlyphs">OH(2)</text>
<line x1="414.24" y1="394.90" x2="414.24" y2="397.85" stroke="#262626" stroke-width="0.7"/>
<text transform="translate(416.84 401.8) rotate(-90)" font-size="8.60" text-anchor="end" textLength="10.85" lengthAdjust="spacingAndGlyphs">WI</text>
<line x1="424.15" y1="394.90" x2="424.15" y2="397.85" stroke="#262626" stroke-width="0.7"/>
<text transform="translate(426.75 401.8) rotate(-90)" font-size="8.60" text-anchor="end" textLength="23.54" lengthAdjust="spacingAndGlyphs">AZ(1)</text>
<line x1="434.06" y1="394.90" x2="434.06" y2="397.85" stroke="#262626" stroke-width="0.7"/>
<text transform="translate(436.66 401.8) rotate(-90)" font-size="8.60" text-anchor="end" textLength="23.54" lengthAdjust="spacingAndGlyphs">AZ(2)</text>
<line x1="443.98" y1="394.90" x2="443.98" y2="397.85" stroke="#262626" stroke-width="0.7"/>
<text transform="translate(446.58 401.8) rotate(-90)" font-size="8.60" text-anchor="end" textLength="12.19" lengthAdjust="spacingAndGlyphs">OK</text>
<line x1="453.89" y1="394.90" x2="453.89" y2="397.85" stroke="#262626" stroke-width="0.7"/>
<text transform="translate(456.49 401.8) rotate(-90)" font-size="8.60" text-anchor="end" textLength="22.92" lengthAdjust="spacingAndGlyphs">TX(1)</text>
<line x1="463.80" y1="394.90" x2="463.80" y2="397.85" stroke="#262626" stroke-width="0.7"/>
<text transform="translate(466.40 401.8) rotate(-90)" font-size="8.60" text-anchor="end" textLength="22.92" lengthAdjust="spacingAndGlyphs">TX(2)</text>
<line x1="473.71" y1="394.90" x2="473.71" y2="397.85" stroke="#262626" stroke-width="0.7"/>
<text transform="translate(476.31 401.8) rotate(-90)" font-size="8.60" text-anchor="end" textLength="22.92" lengthAdjust="spacingAndGlyphs">TX(3)</text>
<line x1="483.62" y1="394.90" x2="483.62" y2="397.85" stroke="#262626" stroke-width="0.7"/>
<text transform="translate(486.22 401.8) rotate(-90)" font-size="8.60" text-anchor="end" textLength="22.92" lengthAdjust="spacingAndGlyphs">TX(4)</text>
<line x1="493.54" y1="394.90" x2="493.54" y2="397.85" stroke="#262626" stroke-width="0.7"/>
<text transform="translate(496.14 401.8) rotate(-90)" font-size="8.60" text-anchor="end" textLength="23.65" lengthAdjust="spacingAndGlyphs">CA(1)</text>
<line x1="503.45" y1="394.90" x2="503.45" y2="397.85" stroke="#262626" stroke-width="0.7"/>
<text transform="translate(506.05 401.8) rotate(-90)" font-size="8.60" text-anchor="end" textLength="23.65" lengthAdjust="spacingAndGlyphs">CA(2)</text>
<line x1="513.36" y1="394.90" x2="513.36" y2="397.85" stroke="#262626" stroke-width="0.7"/>
<text transform="translate(515.96 401.8) rotate(-90)" font-size="8.60" text-anchor="end" textLength="23.65" lengthAdjust="spacingAndGlyphs">CA(3)</text>
<line x1="523.27" y1="394.90" x2="523.27" y2="397.85" stroke="#262626" stroke-width="0.7"/>
<text transform="translate(525.87 401.8) rotate(-90)" font-size="8.60" text-anchor="end" textLength="23.65" lengthAdjust="spacingAndGlyphs">CA(4)</text>
<line x1="533.18" y1="394.90" x2="533.18" y2="397.85" stroke="#262626" stroke-width="0.7"/>
<text transform="translate(535.78 401.8) rotate(-90)" font-size="8.60" text-anchor="end" textLength="23.65" lengthAdjust="spacingAndGlyphs">CA(5)</text>
<line x1="543.10" y1="394.90" x2="543.10" y2="397.85" stroke="#262626" stroke-width="0.7"/>
<text transform="translate(545.70 401.8) rotate(-90)" font-size="8.60" text-anchor="end" textLength="12.55" lengthAdjust="spacingAndGlyphs">CO</text>
<line x1="553.01" y1="394.90" x2="553.01" y2="397.85" stroke="#262626" stroke-width="0.7"/>
<text transform="translate(555.61 401.8) rotate(-90)" font-size="8.60" text-anchor="end" textLength="12.10" lengthAdjust="spacingAndGlyphs">NV</text>
<line x1="562.92" y1="394.90" x2="562.92" y2="397.85" stroke="#262626" stroke-width="0.7"/>
<text transform="translate(565.52 401.8) rotate(-90)" font-size="8.60" text-anchor="end" textLength="28.56" lengthAdjust="spacingAndGlyphs">OR-WA</text>
<line x1="572.83" y1="394.90" x2="572.83" y2="397.85" stroke="#262626" stroke-width="0.7"/>
<text transform="translate(575.43 401.8) rotate(-90)" font-size="8.60" text-anchor="end" textLength="11.35" lengthAdjust="spacingAndGlyphs">UT</text>
<line x1="582.74" y1="394.90" x2="582.74" y2="397.85" stroke="#262626" stroke-width="0.7"/>
<text transform="translate(585.34 401.8) rotate(-90)" font-size="8.60" text-anchor="end" textLength="13.67" lengthAdjust="spacingAndGlyphs">WA</text>
<text transform="translate(7.3 204.20) rotate(-90)" font-size="8.60" text-anchor="middle" textLength="64.98" lengthAdjust="spacingAndGlyphs">Climate Models</text>
<text x="339.90" y="464.9" font-size="8.60" text-anchor="middle" textLength="28.25" lengthAdjust="spacingAndGlyphs">City ID</text>
<rect x="618.10" y="13.50" width="19.70" height="381.40" fill="url(#cb)" stroke="#333" stroke-width="0.6"/>
<line x1="637.80" y1="394.90" x2="640.75" y2="394.90" stroke="#262626" stroke-width="0.7"/>
<text x="643.70" y="398.50" font-size="8.60" textLength="13.44" lengthAdjust="spacingAndGlyphs">0.0</text>
<line x1="637.80" y1="318.62" x2="640.75" y2="318.62" stroke="#262626" stroke-width="0.7"/>
<text x="643.70" y="322.22" font-size="8.60" textLength="13.44" lengthAdjust="spacingAndGlyphs">0.2</text>
<line x1="637.80" y1="242.34" x2="640.75" y2="242.34" stroke="#262626" stroke-width="0.7"/>
<text x="643.70" y="245.94" font-size="8.60" textLength="13.44" lengthAdjust="spacingAndGlyphs">0.4</text>
<line x1="637.80" y1="166.06" x2="640.75" y2="166.06" stroke="#262626" stroke-width="0.7"/>
<text x="643.70" y="169.66" font-size="8.60" textLength="13.44" lengthAdjust="spacingAndGlyphs">0.6</text>
<line x1="637.80" y1="89.78" x2="640.75" y2="89.78" stroke="#262626" stroke-width="0.7"/>
<text x="643.70" y="93.38" font-size="8.60" textLength="13.44" lengthAdjust="spacingAndGlyphs">0.8</text>
<line x1="637.80" y1="13.50" x2="640.75" y2="13.50" stroke="#262626" stroke-width="0.7"/>
<text x="643.70" y="17.10" font-size="8.60" textLength="13.44" lengthAdjust="spacingAndGlyphs">1.0</text>
<text transform="translate(666.6 204.20) rotate(-90)" font-size="8.60" text-anchor="middle" textLength="116.06" lengthAdjust="spacingAndGlyphs">Composite Heatwave Index</text>
</svg></body></html>
